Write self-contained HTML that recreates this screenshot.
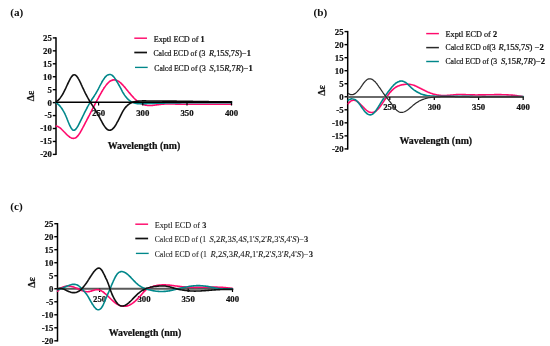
<!DOCTYPE html>
<html><head><meta charset="utf-8"><title>ECD spectra</title>
<style>
html,body{margin:0;padding:0;background:#fff;}
body{width:550px;height:346px;overflow:hidden;}
svg{display:block;}
text{font-family:"Liberation Serif","Times New Roman",serif;fill:#111;stroke:#111;stroke-width:0.22px;}
.tk{font-size:9.20px;font-weight:bold;}
.lg{font-size:8.6px;}
.lgc{stroke-width:0.08px;fill:#1a1a1a;}
.pl{font-size:11.2px;font-weight:bold;stroke-width:0;}
.dl{font-size:10px;font-weight:bold;}
.xl{font-size:9.9px;font-weight:bold;}
</style></head>
<body>
<svg width="550" height="346" viewBox="0 0 550 346">
<rect width="550" height="346" fill="#fff"/>
<line x1="56.00" y1="37.20" x2="56.00" y2="155.10" stroke="#000" stroke-width="1.5"/>
<line x1="52.80" y1="37.90" x2="56.00" y2="37.90" stroke="#000" stroke-width="1.4"/>
<text transform="translate(51.90,40.80) scale(0.955,1)" class="tk" text-anchor="end">25</text>
<line x1="52.80" y1="50.84" x2="56.00" y2="50.84" stroke="#000" stroke-width="1.4"/>
<text transform="translate(51.90,53.74) scale(0.955,1)" class="tk" text-anchor="end">20</text>
<line x1="52.80" y1="63.79" x2="56.00" y2="63.79" stroke="#000" stroke-width="1.4"/>
<text transform="translate(51.90,66.69) scale(0.955,1)" class="tk" text-anchor="end">15</text>
<line x1="52.80" y1="76.73" x2="56.00" y2="76.73" stroke="#000" stroke-width="1.4"/>
<text transform="translate(51.90,79.63) scale(0.955,1)" class="tk" text-anchor="end">10</text>
<line x1="52.80" y1="89.68" x2="56.00" y2="89.68" stroke="#000" stroke-width="1.4"/>
<text transform="translate(51.90,92.58) scale(0.955,1)" class="tk" text-anchor="end">5</text>
<line x1="52.80" y1="102.62" x2="56.00" y2="102.62" stroke="#000" stroke-width="1.4"/>
<text transform="translate(51.90,105.52) scale(0.955,1)" class="tk" text-anchor="end">0</text>
<line x1="52.80" y1="115.57" x2="56.00" y2="115.57" stroke="#000" stroke-width="1.4"/>
<text transform="translate(51.90,118.47) scale(0.955,1)" class="tk" text-anchor="end">-5</text>
<line x1="52.80" y1="128.51" x2="56.00" y2="128.51" stroke="#000" stroke-width="1.4"/>
<text transform="translate(51.90,131.41) scale(0.955,1)" class="tk" text-anchor="end">-10</text>
<line x1="52.80" y1="141.46" x2="56.00" y2="141.46" stroke="#000" stroke-width="1.4"/>
<text transform="translate(51.90,144.36) scale(0.955,1)" class="tk" text-anchor="end">-15</text>
<line x1="52.80" y1="154.40" x2="56.00" y2="154.40" stroke="#000" stroke-width="1.4"/>
<text transform="translate(51.90,157.30) scale(0.955,1)" class="tk" text-anchor="end">-20</text>
<path d="M56.3 125.97 C56.47 126.02 56.97 126.13 57.3 126.26 C57.64 126.38 57.97 126.54 58.3 126.73 C58.64 126.91 58.97 127.12 59.3 127.36 C59.64 127.59 59.97 127.85 60.3 128.12 C60.64 128.39 60.97 128.69 61.3 128.99 C61.64 129.30 61.98 129.62 62.3 129.95 C62.64 130.28 62.98 130.62 63.3 130.96 C63.65 131.30 63.98 131.65 64.3 132.00 C64.65 132.34 64.98 132.70 65.3 133.04 C65.65 133.38 65.98 133.73 66.3 134.06 C66.65 134.39 66.98 134.72 67.3 135.03 C67.65 135.34 67.99 135.65 68.3 135.93 C68.65 136.21 68.99 136.48 69.3 136.72 C69.66 136.97 69.99 137.20 70.3 137.39 C70.66 137.59 70.99 137.77 71.3 137.91 C71.66 138.05 71.99 138.17 72.3 138.24 C72.66 138.32 73.00 138.37 73.3 138.37 C73.66 138.38 74.00 138.35 74.3 138.27 C74.66 138.20 75.00 138.08 75.3 137.91 C75.67 137.75 76.00 137.53 76.3 137.28 C76.67 137.02 77.00 136.72 77.3 136.38 C77.67 136.04 78.00 135.65 78.3 135.23 C78.67 134.81 79.01 134.34 79.3 133.85 C79.67 133.35 80.01 132.82 80.3 132.26 C80.68 131.71 81.01 131.12 81.3 130.52 C81.68 129.92 82.01 129.30 82.3 128.67 C82.68 128.04 83.01 127.40 83.3 126.76 C83.68 126.12 84.01 125.47 84.3 124.83 C84.68 124.18 85.02 123.53 85.3 122.88 C85.68 122.23 86.02 121.58 86.4 120.93 C86.69 120.27 87.02 119.62 87.4 118.96 C87.69 118.31 88.02 117.65 88.4 117.00 C88.69 116.34 89.02 115.68 89.4 115.03 C89.69 114.37 90.02 113.72 90.4 113.06 C90.69 112.41 91.03 111.76 91.4 111.11 C91.69 110.45 92.03 109.80 92.4 109.16 C92.70 108.51 93.03 107.87 93.4 107.22 C93.70 106.58 94.03 105.94 94.4 105.31 C94.70 104.67 95.03 104.04 95.4 103.41 C95.70 102.78 96.03 102.15 96.4 101.53 C96.70 100.90 97.04 100.28 97.4 99.66 C97.70 99.05 98.04 98.43 98.4 97.82 C98.71 97.21 99.04 96.61 99.4 96.00 C99.71 95.40 100.04 94.81 100.4 94.22 C100.71 93.62 101.04 93.04 101.4 92.46 C101.71 91.88 102.04 91.31 102.4 90.75 C102.71 90.20 103.05 89.65 103.4 89.12 C103.71 88.58 104.05 88.06 104.4 87.56 C104.72 87.06 105.05 86.58 105.4 86.11 C105.72 85.65 106.05 85.20 106.4 84.78 C106.72 84.36 107.05 83.96 107.4 83.59 C107.72 83.22 108.06 82.87 108.4 82.56 C108.72 82.24 109.06 81.95 109.4 81.69 C109.72 81.43 110.06 81.20 110.4 81.00 C110.73 80.80 111.06 80.62 111.4 80.47 C111.73 80.32 112.06 80.20 112.4 80.11 C112.73 80.02 113.06 79.95 113.4 79.91 C113.73 79.87 114.07 79.86 114.4 79.87 C114.73 79.88 115.07 79.92 115.4 79.98 C115.74 80.04 116.07 80.13 116.4 80.24 C116.74 80.35 117.07 80.49 117.4 80.65 C117.74 80.81 118.07 81.00 118.4 81.21 C118.74 81.41 119.07 81.65 119.4 81.90 C119.74 82.15 120.08 82.43 120.4 82.72 C120.74 83.01 121.08 83.32 121.4 83.65 C121.75 83.97 122.08 84.31 122.4 84.66 C122.75 85.02 123.08 85.38 123.4 85.75 C123.75 86.13 124.08 86.51 124.4 86.90 C124.75 87.29 125.08 87.68 125.4 88.08 C125.75 88.48 126.09 88.88 126.4 89.29 C126.75 89.69 127.09 90.09 127.4 90.50 C127.76 90.90 128.09 91.31 128.4 91.71 C128.76 92.11 129.09 92.52 129.4 92.91 C129.76 93.31 130.09 93.71 130.4 94.10 C130.76 94.49 131.09 94.88 131.4 95.26 C131.76 95.64 132.10 96.02 132.4 96.38 C132.76 96.75 133.10 97.11 133.4 97.46 C133.77 97.81 134.10 98.16 134.4 98.49 C134.77 98.82 135.10 99.14 135.4 99.45 C135.77 99.76 136.10 100.05 136.4 100.34 C136.77 100.62 137.10 100.89 137.4 101.15 C137.77 101.41 138.11 101.66 138.4 101.90 C138.77 102.13 139.11 102.36 139.4 102.57 C139.78 102.78 140.11 102.98 140.4 103.16 C140.78 103.35 141.11 103.53 141.4 103.69 C141.78 103.86 142.11 104.01 142.4 104.15 C142.78 104.29 143.12 104.42 143.4 104.54 C143.78 104.66 144.12 104.77 144.5 104.86 C144.78 104.96 145.12 105.04 145.5 105.12 C145.79 105.19 146.12 105.25 146.5 105.31 C146.79 105.36 147.12 105.40 147.5 105.44 C147.79 105.47 148.12 105.50 148.5 105.52 C148.79 105.54 149.13 105.54 149.5 105.55 C149.79 105.55 150.13 105.55 150.5 105.54 C150.80 105.53 151.13 105.51 151.5 105.49 C151.80 105.47 152.13 105.44 152.5 105.41 C152.80 105.38 153.13 105.34 153.5 105.31 C153.80 105.27 154.13 105.23 154.5 105.18 C154.80 105.14 155.14 105.09 155.5 105.05 C155.80 105.00 156.14 104.95 156.5 104.90 C156.81 104.85 157.14 104.80 157.5 104.75 C157.81 104.71 158.14 104.66 158.5 104.61 C158.81 104.56 159.14 104.52 159.5 104.48 C159.81 104.43 160.14 104.39 160.5 104.36 C160.81 104.32 161.15 104.29 161.5 104.26 C161.81 104.23 162.15 104.20 162.5 104.18 C162.82 104.15 163.15 104.13 163.5 104.11 C163.82 104.09 164.15 104.08 164.5 104.06 C164.82 104.05 165.15 104.04 165.5 104.03 C165.82 104.02 166.15 104.01 166.5 104.00 C166.82 104.00 167.16 103.99 167.5 103.99 C167.82 103.99 168.16 103.99 168.5 103.99 C168.83 103.99 169.16 103.99 169.5 103.99 C169.83 103.99 170.16 104.00 170.5 104.00 C170.83 104.00 171.16 104.01 171.5 104.01 C171.83 104.02 172.16 104.02 172.5 104.03 C172.83 104.04 173.17 104.04 173.5 104.05 C173.83 104.05 174.17 104.06 174.5 104.07 C174.84 104.07 175.17 104.08 175.5 104.08 C175.84 104.09 176.17 104.09 176.5 104.10 C176.84 104.10 177.17 104.11 177.5 104.11 C177.84 104.12 178.18 104.12 178.5 104.13 C178.84 104.13 179.18 104.14 179.5 104.14 C179.84 104.15 180.18 104.15 180.5 104.15 C180.85 104.16 181.18 104.16 181.5 104.17 C181.85 104.17 182.18 104.17 182.5 104.18 C182.85 104.18 183.18 104.18 183.5 104.19 C183.85 104.19 184.19 104.19 184.5 104.20 C184.85 104.20 185.19 104.20 185.5 104.21 C185.86 104.21 186.19 104.21 186.5 104.22 C186.86 104.22 187.19 104.22 187.5 104.22 C187.86 104.23 188.19 104.23 188.5 104.23 C188.86 104.23 189.19 104.24 189.5 104.24 C189.86 104.24 190.20 104.24 190.5 104.24 C190.86 104.25 191.20 104.25 191.5 104.25 C191.87 104.25 192.20 104.25 192.5 104.25 C192.87 104.26 193.20 104.26 193.5 104.26 C193.87 104.26 194.20 104.26 194.5 104.26 C194.87 104.26 195.20 104.27 195.5 104.27 C195.87 104.27 196.21 104.27 196.5 104.27 C196.87 104.27 197.21 104.27 197.5 104.27 C197.88 104.27 198.21 104.27 198.5 104.27 C198.88 104.28 199.21 104.28 199.5 104.28 C199.88 104.28 200.21 104.28 200.5 104.28 C200.88 104.28 201.21 104.28 201.5 104.28 C201.88 104.28 202.22 104.28 202.6 104.28 C202.88 104.28 203.22 104.28 203.6 104.28 C203.89 104.28 204.22 104.28 204.6 104.28 C204.89 104.28 205.22 104.28 205.6 104.28 C205.89 104.28 206.22 104.28 206.6 104.28 C206.89 104.28 207.22 104.28 207.6 104.28 C207.89 104.28 208.23 104.28 208.6 104.28 C208.89 104.27 209.23 104.27 209.6 104.27 C209.90 104.27 210.23 104.27 210.6 104.27 C210.90 104.27 211.23 104.27 211.6 104.27 C211.90 104.27 212.23 104.27 212.6 104.27 C212.90 104.27 213.24 104.26 213.6 104.26 C213.90 104.26 214.24 104.26 214.6 104.26 C214.90 104.26 215.24 104.26 215.6 104.26 C215.91 104.26 216.24 104.26 216.6 104.25 C216.91 104.25 217.24 104.25 217.6 104.25 C217.91 104.25 218.24 104.25 218.6 104.25 C218.91 104.25 219.25 104.24 219.6 104.24 C219.91 104.24 220.25 104.24 220.6 104.24 C220.92 104.24 221.25 104.24 221.6 104.24 C221.92 104.23 222.25 104.23 222.6 104.23 C222.92 104.23 223.25 104.23 223.6 104.23 C223.92 104.23 224.25 104.23 224.6 104.22 C224.92 104.22 225.26 104.22 225.6 104.22 C225.92 104.22 226.26 104.22 226.6 104.22 C226.93 104.21 227.26 104.21 227.6 104.21 C227.93 104.21 228.26 104.21 228.6 104.21 C228.93 104.21 229.26 104.20 229.6 104.20 C229.93 104.20 230.26 104.20 230.6 104.20 C230.93 104.20 231.43 104.20 231.6 104.20" fill="none" stroke="#ff0a6c" stroke-width="1.60" stroke-linejoin="round" stroke-linecap="round"/>
<path d="M56.3 102.74 C56.47 102.87 56.97 103.24 57.3 103.52 C57.64 103.80 57.97 104.09 58.3 104.40 C58.64 104.71 58.97 105.04 59.3 105.39 C59.64 105.75 59.97 106.12 60.3 106.52 C60.64 106.92 60.97 107.34 61.3 107.80 C61.64 108.25 61.98 108.73 62.3 109.24 C62.64 109.76 62.98 110.30 63.3 110.87 C63.65 111.45 63.98 112.06 64.3 112.70 C64.65 113.35 64.98 114.03 65.3 114.75 C65.65 115.47 65.98 116.24 66.3 117.03 C66.65 117.82 66.98 118.66 67.3 119.48 C67.65 120.30 67.99 121.15 68.3 121.96 C68.65 122.77 68.99 123.59 69.3 124.35 C69.66 125.10 69.99 125.84 70.3 126.49 C70.66 127.15 70.99 127.76 71.3 128.27 C71.66 128.78 71.99 129.22 72.3 129.54 C72.66 129.85 73.00 130.06 73.3 130.17 C73.66 130.27 74.00 130.24 74.3 130.14 C74.66 130.04 75.00 129.82 75.3 129.55 C75.67 129.27 76.00 128.90 76.3 128.49 C76.67 128.07 77.00 127.58 77.3 127.05 C77.67 126.53 78.00 125.94 78.3 125.34 C78.67 124.73 79.01 124.08 79.3 123.43 C79.67 122.78 80.01 122.11 80.3 121.44 C80.68 120.76 81.01 120.08 81.3 119.40 C81.68 118.72 82.01 118.03 82.3 117.34 C82.68 116.65 83.01 115.96 83.3 115.27 C83.68 114.58 84.01 113.89 84.3 113.21 C84.68 112.53 85.02 111.84 85.3 111.17 C85.68 110.50 86.02 109.83 86.4 109.18 C86.69 108.52 87.02 107.88 87.4 107.24 C87.69 106.61 88.02 105.99 88.4 105.38 C88.69 104.77 89.02 104.18 89.4 103.61 C89.69 103.03 90.02 102.48 90.4 101.93 C90.69 101.39 91.03 100.86 91.4 100.34 C91.69 99.82 92.03 99.31 92.4 98.79 C92.70 98.28 93.03 97.77 93.4 97.26 C93.70 96.75 94.03 96.24 94.4 95.71 C94.70 95.19 95.03 94.66 95.4 94.12 C95.70 93.58 96.03 93.02 96.4 92.45 C96.70 91.88 97.04 91.28 97.4 90.68 C97.70 90.07 98.04 89.44 98.4 88.81 C98.71 88.18 99.04 87.53 99.4 86.89 C99.71 86.25 100.04 85.60 100.4 84.97 C100.71 84.33 101.04 83.70 101.4 83.09 C101.71 82.48 102.04 81.87 102.4 81.29 C102.71 80.72 103.05 80.16 103.4 79.63 C103.71 79.11 104.05 78.61 104.4 78.15 C104.72 77.69 105.05 77.26 105.4 76.89 C105.72 76.51 106.05 76.17 106.4 75.88 C106.72 75.59 107.05 75.34 107.4 75.14 C107.72 74.93 108.06 74.78 108.4 74.66 C108.72 74.55 109.06 74.48 109.4 74.46 C109.72 74.44 110.06 74.46 110.4 74.53 C110.73 74.60 111.06 74.72 111.4 74.88 C111.73 75.04 112.06 75.25 112.4 75.51 C112.73 75.77 113.06 76.07 113.4 76.43 C113.73 76.78 114.07 77.19 114.4 77.63 C114.73 78.08 115.07 78.58 115.4 79.09 C115.74 79.61 116.07 80.17 116.4 80.72 C116.74 81.28 117.07 81.86 117.4 82.43 C117.74 83.00 118.07 83.56 118.4 84.12 C118.74 84.69 119.07 85.24 119.4 85.83 C119.74 86.43 120.08 87.06 120.4 87.70 C120.74 88.34 121.08 89.03 121.4 89.68 C121.75 90.33 122.08 90.97 122.4 91.58 C122.75 92.18 123.08 92.75 123.4 93.30 C123.75 93.84 124.08 94.36 124.4 94.85 C124.75 95.34 125.08 95.81 125.4 96.25 C125.75 96.69 126.09 97.10 126.4 97.49 C126.75 97.88 127.09 98.25 127.4 98.59 C127.76 98.94 128.09 99.26 128.4 99.56 C128.76 99.86 129.09 100.14 129.4 100.40 C129.76 100.66 130.09 100.90 130.4 101.12 C130.76 101.35 131.09 101.55 131.4 101.74 C131.76 101.93 132.10 102.10 132.4 102.25 C132.76 102.41 133.10 102.55 133.4 102.68 C133.77 102.80 134.10 102.91 134.4 103.01 C134.77 103.12 135.10 103.20 135.4 103.28 C135.77 103.36 136.10 103.42 136.4 103.48 C136.77 103.53 137.10 103.58 137.4 103.62 C137.77 103.65 138.11 103.68 138.4 103.70 C138.77 103.73 139.11 103.74 139.4 103.75 C139.78 103.76 140.11 103.77 140.4 103.77 C140.78 103.77 141.11 103.76 141.4 103.76 C141.78 103.75 142.11 103.74 142.4 103.73 C142.78 103.72 143.12 103.71 143.4 103.70 C143.78 103.69 144.12 103.68 144.5 103.66 C144.78 103.65 145.12 103.64 145.5 103.63 C145.79 103.62 146.12 103.61 146.5 103.60 C146.79 103.59 147.12 103.58 147.5 103.56 C147.79 103.55 148.12 103.54 148.5 103.53 C148.79 103.52 149.13 103.51 149.5 103.50 C149.79 103.49 150.13 103.48 150.5 103.47 C150.80 103.46 151.13 103.45 151.5 103.44 C151.80 103.43 152.13 103.42 152.5 103.41 C152.80 103.40 153.13 103.39 153.5 103.38 C153.80 103.37 154.13 103.36 154.5 103.35 C154.80 103.34 155.14 103.33 155.5 103.32 C155.80 103.31 156.14 103.30 156.5 103.29 C156.81 103.28 157.14 103.27 157.5 103.26 C157.81 103.25 158.14 103.25 158.5 103.24 C158.81 103.23 159.14 103.22 159.5 103.21 C159.81 103.20 160.14 103.19 160.5 103.18 C160.81 103.18 161.15 103.17 161.5 103.16 C161.81 103.15 162.15 103.14 162.5 103.13 C162.82 103.13 163.15 103.12 163.5 103.11 C163.82 103.10 164.15 103.09 164.5 103.09 C164.82 103.08 165.15 103.07 165.5 103.07 C165.82 103.06 166.15 103.05 166.5 103.04 C166.82 103.04 167.16 103.03 167.5 103.02 C167.82 103.02 168.16 103.01 168.5 103.00 C168.83 103.00 169.16 102.99 169.5 102.98 C169.83 102.98 170.16 102.97 170.5 102.97 C170.83 102.96 171.16 102.95 171.5 102.95 C171.83 102.94 172.16 102.94 172.5 102.93 C172.83 102.93 173.17 102.92 173.5 102.91 C173.83 102.91 174.17 102.90 174.5 102.90 C174.84 102.89 175.17 102.89 175.5 102.89 C175.84 102.88 176.17 102.88 176.5 102.87 C176.84 102.87 177.17 102.86 177.5 102.86 C177.84 102.85 178.18 102.85 178.5 102.85 C178.84 102.84 179.18 102.84 179.5 102.84 C179.84 102.83 180.18 102.83 180.5 102.82 C180.85 102.82 181.18 102.82 181.5 102.81 C181.85 102.81 182.18 102.81 182.5 102.81 C182.85 102.80 183.18 102.80 183.5 102.80 C183.85 102.79 184.19 102.79 184.5 102.79 C184.85 102.79 185.19 102.78 185.5 102.78 C185.86 102.78 186.19 102.78 186.5 102.77 C186.86 102.77 187.19 102.77 187.5 102.77 C187.86 102.76 188.19 102.76 188.5 102.76 C188.86 102.76 189.19 102.76 189.5 102.76 C189.86 102.75 190.20 102.75 190.5 102.75 C190.86 102.75 191.20 102.75 191.5 102.75 C191.87 102.74 192.20 102.74 192.5 102.74 C192.87 102.74 193.20 102.74 193.5 102.74 C193.87 102.74 194.20 102.73 194.5 102.73 C194.87 102.73 195.20 102.73 195.5 102.73 C195.87 102.73 196.21 102.73 196.5 102.73 C196.87 102.73 197.21 102.73 197.5 102.73 C197.88 102.72 198.21 102.72 198.5 102.72 C198.88 102.72 199.21 102.72 199.5 102.72 C199.88 102.72 200.21 102.72 200.5 102.72 C200.88 102.72 201.21 102.72 201.5 102.72 C201.88 102.72 202.22 102.72 202.6 102.72 C202.88 102.72 203.22 102.72 203.6 102.72 C203.89 102.72 204.22 102.72 204.6 102.72 C204.89 102.71 205.22 102.71 205.6 102.71 C205.89 102.71 206.22 102.71 206.6 102.71 C206.89 102.71 207.22 102.71 207.6 102.71 C207.89 102.71 208.23 102.71 208.6 102.71 C208.89 102.71 209.23 102.71 209.6 102.71 C209.90 102.71 210.23 102.71 210.6 102.71 C210.90 102.71 211.23 102.71 211.6 102.71 C211.90 102.71 212.23 102.71 212.6 102.71 C212.90 102.71 213.24 102.71 213.6 102.71 C213.90 102.71 214.24 102.71 214.6 102.71 C214.90 102.71 215.24 102.71 215.6 102.71 C215.91 102.71 216.24 102.71 216.6 102.71 C216.91 102.71 217.24 102.71 217.6 102.71 C217.91 102.71 218.24 102.71 218.6 102.71 C218.91 102.71 219.25 102.71 219.6 102.71 C219.91 102.71 220.25 102.71 220.6 102.71 C220.92 102.71 221.25 102.71 221.6 102.71 C221.92 102.71 222.25 102.71 222.6 102.71 C222.92 102.71 223.25 102.71 223.6 102.70 C223.92 102.70 224.25 102.70 224.6 102.70 C224.92 102.70 225.26 102.70 225.6 102.70 C225.92 102.70 226.26 102.70 226.6 102.70 C226.93 102.70 227.26 102.70 227.6 102.70 C227.93 102.70 228.26 102.69 228.6 102.69 C228.93 102.69 229.26 102.69 229.6 102.69 C229.93 102.69 230.26 102.69 230.6 102.69 C230.93 102.68 231.43 102.68 231.6 102.68" fill="none" stroke="#00878a" stroke-width="1.60" stroke-linejoin="round" stroke-linecap="round"/>
<path d="M56.3 101.47 C56.47 101.38 56.97 101.16 57.3 100.94 C57.64 100.72 57.97 100.45 58.3 100.15 C58.64 99.85 58.97 99.50 59.3 99.12 C59.64 98.75 59.97 98.33 60.3 97.88 C60.64 97.43 60.97 96.95 61.3 96.44 C61.64 95.93 61.98 95.39 62.3 94.82 C62.64 94.26 62.98 93.66 63.3 93.05 C63.65 92.43 63.98 91.79 64.3 91.13 C64.65 90.48 64.98 89.80 65.3 89.10 C65.65 88.41 65.98 87.69 66.3 86.97 C66.65 86.25 66.98 85.51 67.3 84.78 C67.65 84.06 67.99 83.32 68.3 82.62 C68.65 81.91 68.99 81.21 69.3 80.55 C69.66 79.90 69.99 79.26 70.3 78.68 C70.66 78.10 70.99 77.55 71.3 77.08 C71.66 76.60 71.99 76.18 72.3 75.84 C72.66 75.50 73.00 75.21 73.3 75.04 C73.66 74.86 74.00 74.76 74.3 74.76 C74.66 74.76 75.00 74.87 75.3 75.05 C75.67 75.23 76.00 75.50 76.3 75.83 C76.67 76.17 77.00 76.58 77.3 77.04 C77.67 77.50 78.00 78.03 78.3 78.60 C78.67 79.16 79.01 79.78 79.3 80.42 C79.67 81.07 80.01 81.75 80.3 82.45 C80.68 83.14 81.01 83.87 81.3 84.59 C81.68 85.31 82.01 86.05 82.3 86.77 C82.68 87.50 83.01 88.22 83.3 88.94 C83.68 89.65 84.01 90.36 84.3 91.05 C84.68 91.75 85.02 92.44 85.3 93.12 C85.68 93.79 86.02 94.46 86.4 95.12 C86.69 95.77 87.02 96.41 87.4 97.04 C87.69 97.67 88.02 98.29 88.4 98.88 C88.69 99.48 89.02 100.07 89.4 100.63 C89.69 101.20 90.02 101.75 90.4 102.28 C90.69 102.81 91.03 103.32 91.4 103.83 C91.69 104.34 92.03 104.83 92.4 105.33 C92.70 105.83 93.03 106.32 93.4 106.82 C93.70 107.33 94.03 107.83 94.4 108.36 C94.70 108.89 95.03 109.43 95.4 109.98 C95.70 110.54 96.03 111.11 96.4 111.70 C96.70 112.28 97.04 112.88 97.4 113.48 C97.70 114.08 98.04 114.70 98.4 115.32 C98.71 115.94 99.04 116.56 99.4 117.19 C99.71 117.82 100.04 118.46 100.4 119.08 C100.71 119.71 101.04 120.35 101.4 120.97 C101.71 121.59 102.04 122.20 102.4 122.80 C102.71 123.39 103.05 123.97 103.4 124.52 C103.71 125.07 104.05 125.61 104.4 126.10 C104.72 126.60 105.05 127.07 105.4 127.49 C105.72 127.91 106.05 128.30 106.4 128.64 C106.72 128.97 107.05 129.27 107.4 129.50 C107.72 129.73 108.06 129.91 108.4 130.04 C108.72 130.16 109.06 130.23 109.4 130.25 C109.72 130.26 110.06 130.23 110.4 130.14 C110.73 130.06 111.06 129.92 111.4 129.74 C111.73 129.56 112.06 129.33 112.4 129.06 C112.73 128.78 113.06 128.47 113.4 128.11 C113.73 127.75 114.07 127.34 114.4 126.90 C114.73 126.46 115.07 125.98 115.4 125.46 C115.74 124.95 116.07 124.39 116.4 123.81 C116.74 123.23 117.07 122.62 117.4 121.99 C117.74 121.36 118.07 120.71 118.4 120.06 C118.74 119.40 119.07 118.73 119.4 118.06 C119.74 117.39 120.08 116.71 120.4 116.05 C120.74 115.38 121.08 114.72 121.4 114.08 C121.75 113.43 122.08 112.80 122.4 112.20 C122.75 111.59 123.08 111.01 123.4 110.46 C123.75 109.91 124.08 109.39 124.4 108.91 C124.75 108.43 125.08 107.98 125.4 107.56 C125.75 107.14 126.09 106.75 126.4 106.39 C126.75 106.03 127.09 105.70 127.4 105.39 C127.76 105.08 128.09 104.80 128.4 104.54 C128.76 104.28 129.09 104.04 129.4 103.82 C129.76 103.61 130.09 103.41 130.4 103.23 C130.76 103.05 131.09 102.89 131.4 102.75 C131.76 102.60 132.10 102.47 132.4 102.35 C132.76 102.24 133.10 102.13 133.4 102.04 C133.77 101.94 134.10 101.86 134.4 101.78 C134.77 101.71 135.10 101.64 135.4 101.58 C135.77 101.51 136.10 101.46 136.4 101.40 C136.77 101.35 137.10 101.30 137.4 101.26 C137.77 101.22 138.11 101.18 138.4 101.15 C138.77 101.11 139.11 101.09 139.4 101.06 C139.78 101.03 140.11 101.01 140.4 101.00 C140.78 100.98 141.11 100.96 141.4 100.95 C141.78 100.94 142.11 100.93 142.4 100.92 C142.78 100.92 143.12 100.91 143.4 100.91 C143.78 100.91 144.12 100.91 144.5 100.91 C144.78 100.91 145.12 100.91 145.5 100.91 C145.79 100.92 146.12 100.92 146.5 100.93 C146.79 100.93 147.12 100.94 147.5 100.94 C147.79 100.95 148.12 100.95 148.5 100.96 C148.79 100.96 149.13 100.97 149.5 100.97 C149.79 100.98 150.13 100.98 150.5 100.99 C150.80 100.99 151.13 100.99 151.5 101.00 C151.80 101.00 152.13 101.01 152.5 101.01 C152.80 101.01 153.13 101.02 153.5 101.02 C153.80 101.02 154.13 101.03 154.5 101.03 C154.80 101.03 155.14 101.03 155.5 101.04 C155.80 101.04 156.14 101.04 156.5 101.04 C156.81 101.05 157.14 101.05 157.5 101.05 C157.81 101.05 158.14 101.05 158.5 101.06 C158.81 101.06 159.14 101.06 159.5 101.06 C159.81 101.06 160.14 101.07 160.5 101.07 C160.81 101.07 161.15 101.07 161.5 101.07 C161.81 101.07 162.15 101.08 162.5 101.08 C162.82 101.08 163.15 101.08 163.5 101.08 C163.82 101.08 164.15 101.08 164.5 101.09 C164.82 101.09 165.15 101.09 165.5 101.09 C165.82 101.09 166.15 101.09 166.5 101.10 C166.82 101.10 167.16 101.10 167.5 101.10 C167.82 101.10 168.16 101.10 168.5 101.11 C168.83 101.11 169.16 101.11 169.5 101.11 C169.83 101.11 170.16 101.12 170.5 101.12 C170.83 101.12 171.16 101.12 171.5 101.12 C171.83 101.13 172.16 101.13 172.5 101.13 C172.83 101.13 173.17 101.14 173.5 101.14 C173.83 101.14 174.17 101.15 174.5 101.15 C174.84 101.15 175.17 101.16 175.5 101.16 C175.84 101.16 176.17 101.17 176.5 101.17 C176.84 101.17 177.17 101.18 177.5 101.18 C177.84 101.19 178.18 101.19 178.5 101.19 C178.84 101.20 179.18 101.20 179.5 101.21 C179.84 101.21 180.18 101.22 180.5 101.22 C180.85 101.23 181.18 101.23 181.5 101.23 C181.85 101.24 182.18 101.24 182.5 101.25 C182.85 101.25 183.18 101.26 183.5 101.26 C183.85 101.27 184.19 101.27 184.5 101.28 C184.85 101.28 185.19 101.29 185.5 101.30 C185.86 101.30 186.19 101.31 186.5 101.31 C186.86 101.32 187.19 101.32 187.5 101.33 C187.86 101.33 188.19 101.34 188.5 101.34 C188.86 101.35 189.19 101.36 189.5 101.36 C189.86 101.37 190.20 101.37 190.5 101.38 C190.86 101.38 191.20 101.39 191.5 101.40 C191.87 101.40 192.20 101.41 192.5 101.41 C192.87 101.42 193.20 101.43 193.5 101.43 C193.87 101.44 194.20 101.44 194.5 101.45 C194.87 101.45 195.20 101.46 195.5 101.47 C195.87 101.47 196.21 101.48 196.5 101.48 C196.87 101.49 197.21 101.50 197.5 101.50 C197.88 101.51 198.21 101.51 198.5 101.52 C198.88 101.52 199.21 101.53 199.5 101.54 C199.88 101.54 200.21 101.55 200.5 101.55 C200.88 101.56 201.21 101.56 201.5 101.57 C201.88 101.57 202.22 101.58 202.6 101.58 C202.88 101.59 203.22 101.60 203.6 101.60 C203.89 101.61 204.22 101.61 204.6 101.62 C204.89 101.62 205.22 101.63 205.6 101.63 C205.89 101.64 206.22 101.64 206.6 101.65 C206.89 101.65 207.22 101.66 207.6 101.66 C207.89 101.66 208.23 101.67 208.6 101.67 C208.89 101.68 209.23 101.68 209.6 101.69 C209.90 101.69 210.23 101.69 210.6 101.70 C210.90 101.70 211.23 101.71 211.6 101.71 C211.90 101.71 212.23 101.72 212.6 101.72 C212.90 101.72 213.24 101.73 213.6 101.73 C213.90 101.73 214.24 101.74 214.6 101.74 C214.90 101.74 215.24 101.75 215.6 101.75 C215.91 101.75 216.24 101.75 216.6 101.76 C216.91 101.76 217.24 101.76 217.6 101.76 C217.91 101.77 218.24 101.77 218.6 101.77 C218.91 101.77 219.25 101.77 219.6 101.77 C219.91 101.78 220.25 101.78 220.6 101.78 C220.92 101.78 221.25 101.78 221.6 101.78 C221.92 101.78 222.25 101.78 222.6 101.78 C222.92 101.78 223.25 101.78 223.6 101.78 C223.92 101.78 224.25 101.78 224.6 101.78 C224.92 101.78 225.26 101.78 225.6 101.78 C225.92 101.78 226.26 101.78 226.6 101.78 C226.93 101.77 227.26 101.77 227.6 101.77 C227.93 101.77 228.26 101.77 228.6 101.76 C228.93 101.76 229.26 101.76 229.6 101.76 C229.93 101.75 230.26 101.75 230.6 101.75 C230.93 101.74 231.43 101.74 231.6 101.74" fill="none" stroke="#111" stroke-width="1.60" stroke-linejoin="round" stroke-linecap="round"/>
<line x1="56.00" y1="102.30" x2="231.60" y2="102.30" stroke="#000" stroke-width="1.40"/>
<line x1="98.60" y1="102.30" x2="98.60" y2="105.50" stroke="#000" stroke-width="1.2"/>
<text transform="translate(98.60,115.70) scale(0.955,1)" class="tk" text-anchor="middle">250</text>
<line x1="142.80" y1="102.30" x2="142.80" y2="105.50" stroke="#000" stroke-width="1.2"/>
<text transform="translate(142.80,115.70) scale(0.955,1)" class="tk" text-anchor="middle">300</text>
<line x1="187.00" y1="102.30" x2="187.00" y2="105.50" stroke="#000" stroke-width="1.2"/>
<text transform="translate(187.00,115.70) scale(0.955,1)" class="tk" text-anchor="middle">350</text>
<line x1="231.50" y1="102.30" x2="231.50" y2="105.50" stroke="#000" stroke-width="1.2"/>
<text transform="translate(231.50,115.70) scale(0.955,1)" class="tk" text-anchor="middle">400</text>
<text x="10.2" y="16.4" class="pl">(a)</text>
<text class="dl" transform="translate(34.2,96.0) rotate(-90)" text-anchor="middle">&#916;&#949;</text>
<text x="144" y="148.9" class="xl" text-anchor="middle">Wavelength (nm)</text>
<line x1="134.30" y1="38.20" x2="147.00" y2="38.20" stroke="#ff0a6c" stroke-width="1.45"/>
<line x1="134.30" y1="52.50" x2="147.00" y2="52.50" stroke="#111" stroke-width="1.70"/>
<line x1="135.00" y1="67.40" x2="147.70" y2="67.40" stroke="#00878a" stroke-width="1.35"/>
<text x="153.70" y="41.70" class="lg" textLength="51.00" lengthAdjust="spacingAndGlyphs">Exptl ECD of <tspan font-weight="bold">1</tspan></text>
<text x="153.50" y="55.50" class="lg" textLength="51.80" lengthAdjust="spacingAndGlyphs">Calcd ECD of (3</text>
<text x="209.00" y="55.50" class="lg" textLength="41.80" lengthAdjust="spacingAndGlyphs"><tspan font-style="italic">R</tspan>,15<tspan font-style="italic">S</tspan>,7<tspan font-style="italic">S</tspan>)&#8722;<tspan font-weight="bold">1</tspan></text>
<text x="154.30" y="70.50" class="lg" textLength="51.40" lengthAdjust="spacingAndGlyphs">Calcd ECD of (3</text>
<text x="209.50" y="70.50" class="lg" textLength="43.10" lengthAdjust="spacingAndGlyphs"><tspan font-style="italic">S</tspan>,15<tspan font-style="italic">R</tspan>,7<tspan font-style="italic">R</tspan>)&#8722;<tspan font-weight="bold">1</tspan></text>
<line x1="347.70" y1="30.90" x2="347.70" y2="149.60" stroke="#000" stroke-width="1.5"/>
<line x1="344.50" y1="31.60" x2="347.70" y2="31.60" stroke="#000" stroke-width="1.4"/>
<text transform="translate(343.60,34.50) scale(0.955,1)" class="tk" text-anchor="end">25</text>
<line x1="344.50" y1="44.63" x2="347.70" y2="44.63" stroke="#000" stroke-width="1.4"/>
<text transform="translate(343.60,47.53) scale(0.955,1)" class="tk" text-anchor="end">20</text>
<line x1="344.50" y1="57.67" x2="347.70" y2="57.67" stroke="#000" stroke-width="1.4"/>
<text transform="translate(343.60,60.57) scale(0.955,1)" class="tk" text-anchor="end">15</text>
<line x1="344.50" y1="70.70" x2="347.70" y2="70.70" stroke="#000" stroke-width="1.4"/>
<text transform="translate(343.60,73.60) scale(0.955,1)" class="tk" text-anchor="end">10</text>
<line x1="344.50" y1="83.73" x2="347.70" y2="83.73" stroke="#000" stroke-width="1.4"/>
<text transform="translate(343.60,86.63) scale(0.955,1)" class="tk" text-anchor="end">5</text>
<line x1="344.50" y1="96.77" x2="347.70" y2="96.77" stroke="#000" stroke-width="1.4"/>
<text transform="translate(343.60,99.67) scale(0.955,1)" class="tk" text-anchor="end">0</text>
<line x1="344.50" y1="109.80" x2="347.70" y2="109.80" stroke="#000" stroke-width="1.4"/>
<text transform="translate(343.60,112.70) scale(0.955,1)" class="tk" text-anchor="end">-5</text>
<line x1="344.50" y1="122.83" x2="347.70" y2="122.83" stroke="#000" stroke-width="1.4"/>
<text transform="translate(343.60,125.73) scale(0.955,1)" class="tk" text-anchor="end">-10</text>
<line x1="344.50" y1="135.87" x2="347.70" y2="135.87" stroke="#000" stroke-width="1.4"/>
<text transform="translate(343.60,138.77) scale(0.955,1)" class="tk" text-anchor="end">-15</text>
<line x1="344.50" y1="148.90" x2="347.70" y2="148.90" stroke="#000" stroke-width="1.4"/>
<text transform="translate(343.60,151.80) scale(0.955,1)" class="tk" text-anchor="end">-20</text>
<path d="M348.2 103.67 C348.37 103.46 348.87 102.81 349.2 102.45 C349.53 102.09 349.87 101.78 350.2 101.51 C350.53 101.24 350.87 101.01 351.2 100.83 C351.54 100.65 351.87 100.51 352.2 100.41 C352.54 100.30 352.87 100.24 353.2 100.21 C353.54 100.19 353.87 100.20 354.2 100.24 C354.54 100.28 354.87 100.36 355.2 100.46 C355.54 100.57 355.87 100.71 356.2 100.87 C356.54 101.04 356.87 101.23 357.2 101.45 C357.54 101.66 357.87 101.91 358.2 102.17 C358.54 102.44 358.87 102.73 359.2 103.03 C359.54 103.33 359.87 103.65 360.2 103.97 C360.54 104.30 360.87 104.64 361.2 104.98 C361.54 105.33 361.87 105.68 362.2 106.03 C362.54 106.38 362.88 106.74 363.2 107.09 C363.54 107.44 363.88 107.78 364.2 108.12 C364.54 108.46 364.88 108.79 365.2 109.10 C365.54 109.41 365.88 109.72 366.2 110.00 C366.54 110.28 366.88 110.55 367.2 110.78 C367.54 111.02 367.88 111.24 368.2 111.43 C368.54 111.62 368.88 111.79 369.2 111.93 C369.55 112.06 369.88 112.18 370.2 112.26 C370.55 112.35 370.88 112.41 371.2 112.44 C371.55 112.47 371.88 112.47 372.2 112.45 C372.55 112.43 372.88 112.38 373.2 112.30 C373.55 112.22 373.88 112.11 374.2 111.97 C374.55 111.84 374.88 111.67 375.2 111.48 C375.55 111.28 375.88 111.06 376.2 110.80 C376.55 110.55 376.88 110.27 377.2 109.95 C377.55 109.64 377.88 109.29 378.2 108.93 C378.55 108.56 378.88 108.16 379.2 107.75 C379.55 107.34 379.88 106.90 380.2 106.45 C380.55 106.00 380.89 105.53 381.2 105.05 C381.55 104.57 381.89 104.08 382.2 103.58 C382.55 103.09 382.89 102.58 383.2 102.08 C383.55 101.57 383.89 101.06 384.2 100.56 C384.55 100.05 384.89 99.54 385.2 99.05 C385.55 98.55 385.89 98.06 386.2 97.58 C386.56 97.10 386.89 96.63 387.2 96.16 C387.56 95.70 387.89 95.25 388.2 94.81 C388.56 94.37 388.89 93.94 389.2 93.52 C389.56 93.10 389.89 92.70 390.2 92.31 C390.56 91.92 390.89 91.54 391.2 91.18 C391.56 90.82 391.89 90.47 392.2 90.14 C392.56 89.81 392.89 89.50 393.2 89.21 C393.56 88.91 393.89 88.64 394.2 88.38 C394.56 88.12 394.89 87.88 395.2 87.65 C395.56 87.43 395.89 87.22 396.2 87.02 C396.56 86.83 396.89 86.65 397.2 86.48 C397.56 86.32 397.90 86.16 398.2 86.02 C398.56 85.88 398.90 85.75 399.2 85.63 C399.56 85.51 399.90 85.41 400.2 85.31 C400.56 85.21 400.90 85.12 401.2 85.04 C401.56 84.95 401.90 84.88 402.2 84.81 C402.56 84.74 402.90 84.68 403.2 84.62 C403.56 84.56 403.90 84.51 404.2 84.47 C404.57 84.42 404.90 84.38 405.2 84.34 C405.57 84.31 405.90 84.28 406.2 84.26 C406.57 84.24 406.90 84.22 407.2 84.22 C407.57 84.21 407.90 84.21 408.2 84.22 C408.57 84.23 408.90 84.24 409.2 84.27 C409.57 84.29 409.90 84.33 410.2 84.37 C410.57 84.41 410.90 84.47 411.2 84.53 C411.57 84.59 411.90 84.66 412.2 84.75 C412.57 84.83 412.90 84.92 413.2 85.03 C413.57 85.13 413.90 85.24 414.2 85.37 C414.57 85.49 414.90 85.63 415.2 85.77 C415.57 85.91 415.91 86.06 416.2 86.22 C416.57 86.37 416.91 86.53 417.2 86.70 C417.57 86.86 417.91 87.04 418.2 87.21 C418.57 87.38 418.91 87.56 419.2 87.74 C419.57 87.91 419.91 88.09 420.2 88.27 C420.57 88.45 420.91 88.62 421.2 88.80 C421.58 88.97 421.91 89.15 422.2 89.32 C422.58 89.49 422.91 89.66 423.2 89.82 C423.58 89.99 423.91 90.15 424.2 90.32 C424.58 90.48 424.91 90.64 425.2 90.79 C425.58 90.95 425.91 91.10 426.2 91.26 C426.58 91.41 426.91 91.56 427.2 91.70 C427.58 91.85 427.91 91.99 428.2 92.13 C428.58 92.27 428.91 92.40 429.2 92.53 C429.58 92.67 429.91 92.79 430.2 92.92 C430.58 93.04 430.91 93.16 431.2 93.28 C431.58 93.40 431.91 93.51 432.2 93.62 C432.58 93.73 432.92 93.83 433.2 93.94 C433.58 94.04 433.92 94.13 434.2 94.22 C434.58 94.32 434.92 94.40 435.2 94.49 C435.58 94.57 435.92 94.65 436.3 94.72 C436.58 94.80 436.92 94.87 437.3 94.93 C437.58 95.00 437.92 95.06 438.3 95.11 C438.58 95.17 438.92 95.22 439.3 95.26 C439.59 95.31 439.92 95.35 440.3 95.39 C440.59 95.42 440.92 95.45 441.3 95.48 C441.59 95.50 441.92 95.52 442.3 95.54 C442.59 95.55 442.92 95.56 443.3 95.57 C443.59 95.57 443.92 95.57 444.3 95.56 C444.59 95.56 444.92 95.55 445.3 95.54 C445.59 95.53 445.92 95.51 446.3 95.49 C446.59 95.47 446.92 95.45 447.3 95.42 C447.59 95.40 447.92 95.37 448.3 95.34 C448.59 95.32 448.92 95.29 449.3 95.25 C449.59 95.22 449.92 95.19 450.3 95.16 C450.59 95.12 450.93 95.09 451.3 95.06 C451.59 95.02 451.93 94.99 452.3 94.96 C452.59 94.92 452.93 94.89 453.3 94.86 C453.59 94.83 453.93 94.80 454.3 94.77 C454.59 94.74 454.93 94.72 455.3 94.70 C455.59 94.67 455.93 94.65 456.3 94.63 C456.60 94.62 456.93 94.60 457.3 94.59 C457.60 94.58 457.93 94.57 458.3 94.56 C458.60 94.56 458.93 94.55 459.3 94.55 C459.60 94.55 459.93 94.55 460.3 94.55 C460.60 94.55 460.93 94.55 461.3 94.56 C461.60 94.56 461.93 94.57 462.3 94.58 C462.60 94.58 462.93 94.59 463.3 94.60 C463.60 94.61 463.93 94.62 464.3 94.63 C464.60 94.65 464.93 94.66 465.3 94.67 C465.60 94.68 465.93 94.69 466.3 94.71 C466.60 94.72 466.93 94.73 467.3 94.75 C467.60 94.76 467.94 94.77 468.3 94.78 C468.60 94.80 468.94 94.81 469.3 94.82 C469.60 94.83 469.94 94.84 470.3 94.85 C470.60 94.86 470.94 94.87 471.3 94.88 C471.60 94.88 471.94 94.89 472.3 94.90 C472.60 94.90 472.94 94.91 473.3 94.91 C473.60 94.91 473.94 94.92 474.3 94.92 C474.61 94.92 474.94 94.93 475.3 94.93 C475.61 94.93 475.94 94.93 476.3 94.93 C476.61 94.93 476.94 94.93 477.3 94.93 C477.61 94.93 477.94 94.93 478.3 94.92 C478.61 94.92 478.94 94.92 479.3 94.92 C479.61 94.91 479.94 94.91 480.3 94.91 C480.61 94.90 480.94 94.90 481.3 94.89 C481.61 94.89 481.94 94.88 482.3 94.88 C482.61 94.87 482.94 94.87 483.3 94.86 C483.61 94.86 483.94 94.85 484.3 94.85 C484.61 94.84 484.94 94.83 485.3 94.83 C485.61 94.82 485.95 94.81 486.3 94.81 C486.61 94.80 486.95 94.80 487.3 94.79 C487.61 94.78 487.95 94.78 488.3 94.77 C488.61 94.76 488.95 94.76 489.3 94.75 C489.61 94.74 489.95 94.74 490.3 94.73 C490.61 94.73 490.95 94.72 491.3 94.72 C491.62 94.71 491.95 94.70 492.3 94.70 C492.62 94.69 492.95 94.69 493.3 94.69 C493.62 94.68 493.95 94.68 494.3 94.67 C494.62 94.67 494.95 94.67 495.3 94.66 C495.62 94.66 495.95 94.66 496.3 94.66 C496.62 94.65 496.95 94.65 497.3 94.65 C497.62 94.65 497.95 94.65 498.3 94.65 C498.62 94.65 498.95 94.65 499.3 94.65 C499.62 94.66 499.95 94.66 500.3 94.66 C500.62 94.66 500.95 94.67 501.3 94.67 C501.62 94.68 501.95 94.68 502.3 94.69 C502.62 94.69 502.96 94.70 503.3 94.71 C503.62 94.72 503.96 94.72 504.3 94.73 C504.62 94.74 504.96 94.75 505.3 94.77 C505.62 94.78 505.96 94.79 506.3 94.80 C506.62 94.82 506.96 94.83 507.3 94.85 C507.62 94.86 507.96 94.88 508.3 94.90 C508.62 94.92 508.96 94.93 509.3 94.95 C509.63 94.98 509.96 95.00 510.3 95.02 C510.63 95.04 510.96 95.07 511.3 95.09 C511.63 95.12 511.96 95.14 512.3 95.17 C512.63 95.20 512.96 95.23 513.3 95.26 C513.63 95.29 513.96 95.32 514.3 95.36 C514.63 95.39 514.96 95.43 515.3 95.46 C515.63 95.50 515.96 95.54 516.3 95.58 C516.63 95.62 516.96 95.66 517.3 95.70 C517.63 95.75 517.96 95.79 518.3 95.84 C518.63 95.88 518.96 95.93 519.3 95.98 C519.63 96.03 519.96 96.08 520.3 96.14 C520.63 96.19 520.97 96.25 521.3 96.30 C521.63 96.36 521.97 96.42 522.3 96.48 C522.63 96.54 523.13 96.64 523.3 96.67" fill="none" stroke="#ff0a6c" stroke-width="1.60" stroke-linejoin="round" stroke-linecap="round"/>
<path d="M348.2 100.22 C348.37 100.12 348.87 99.78 349.2 99.60 C349.53 99.43 349.87 99.28 350.2 99.16 C350.53 99.04 350.87 98.95 351.2 98.90 C351.54 98.84 351.87 98.81 352.2 98.82 C352.54 98.82 352.87 98.86 353.2 98.93 C353.54 98.99 353.87 99.09 354.2 99.23 C354.54 99.36 354.87 99.52 355.2 99.72 C355.54 99.92 355.87 100.15 356.2 100.42 C356.54 100.68 356.87 100.98 357.2 101.31 C357.54 101.65 357.87 102.02 358.2 102.41 C358.54 102.81 358.87 103.24 359.2 103.68 C359.54 104.12 359.87 104.59 360.2 105.06 C360.54 105.53 360.87 106.02 361.2 106.50 C361.54 106.98 361.87 107.48 362.2 107.96 C362.54 108.44 362.88 108.92 363.2 109.38 C363.54 109.84 363.88 110.29 364.2 110.72 C364.54 111.14 364.88 111.55 365.2 111.91 C365.54 112.28 365.88 112.63 366.2 112.93 C366.54 113.24 366.88 113.51 367.2 113.75 C367.54 113.99 367.88 114.19 368.2 114.36 C368.54 114.52 368.88 114.65 369.2 114.74 C369.55 114.82 369.88 114.87 370.2 114.87 C370.55 114.87 370.88 114.83 371.2 114.75 C371.55 114.66 371.88 114.53 372.2 114.35 C372.55 114.18 372.88 113.95 373.2 113.67 C373.55 113.40 373.88 113.08 374.2 112.72 C374.55 112.37 374.88 111.97 375.2 111.55 C375.55 111.12 375.88 110.66 376.2 110.19 C376.55 109.71 376.88 109.20 377.2 108.69 C377.55 108.17 377.88 107.63 378.2 107.09 C378.55 106.55 378.88 105.99 379.2 105.44 C379.55 104.89 379.88 104.33 380.2 103.78 C380.55 103.23 380.89 102.69 381.2 102.15 C381.55 101.62 381.89 101.09 382.2 100.56 C382.55 100.04 382.89 99.52 383.2 99.01 C383.55 98.50 383.89 98.00 384.2 97.50 C384.55 97.00 384.89 96.51 385.2 96.02 C385.55 95.53 385.89 95.05 386.2 94.58 C386.56 94.10 386.89 93.63 387.2 93.17 C387.56 92.71 387.89 92.25 388.2 91.80 C388.56 91.34 388.89 90.90 389.2 90.46 C389.56 90.02 389.89 89.59 390.2 89.16 C390.56 88.74 390.89 88.33 391.2 87.92 C391.56 87.52 391.89 87.13 392.2 86.75 C392.56 86.37 392.89 86.01 393.2 85.66 C393.56 85.31 393.89 84.97 394.2 84.65 C394.56 84.34 394.89 84.03 395.2 83.75 C395.56 83.47 395.89 83.21 396.2 82.96 C396.56 82.72 396.89 82.50 397.2 82.30 C397.56 82.10 397.90 81.93 398.2 81.77 C398.56 81.62 398.90 81.49 399.2 81.38 C399.56 81.28 399.90 81.19 400.2 81.13 C400.56 81.08 400.90 81.04 401.2 81.04 C401.56 81.03 401.90 81.05 402.2 81.09 C402.56 81.14 402.90 81.21 403.2 81.31 C403.56 81.41 403.90 81.54 404.2 81.69 C404.57 81.85 404.90 82.04 405.2 82.25 C405.57 82.45 405.90 82.69 406.2 82.94 C406.57 83.20 406.90 83.47 407.2 83.76 C407.57 84.04 407.90 84.35 408.2 84.66 C408.57 84.96 408.90 85.29 409.2 85.61 C409.57 85.93 409.90 86.25 410.2 86.57 C410.57 86.90 410.90 87.22 411.2 87.53 C411.57 87.84 411.90 88.15 412.2 88.44 C412.57 88.74 412.90 89.02 413.2 89.29 C413.57 89.56 413.90 89.82 414.2 90.07 C414.57 90.32 414.90 90.56 415.2 90.79 C415.57 91.02 415.91 91.24 416.2 91.45 C416.57 91.66 416.91 91.86 417.2 92.05 C417.57 92.24 417.91 92.43 418.2 92.60 C418.57 92.77 418.91 92.94 419.2 93.10 C419.57 93.25 419.91 93.40 420.2 93.54 C420.57 93.69 420.91 93.82 421.2 93.95 C421.58 94.07 421.91 94.19 422.2 94.30 C422.58 94.41 422.91 94.52 423.2 94.62 C423.58 94.72 423.91 94.81 424.2 94.90 C424.58 94.98 424.91 95.06 425.2 95.14 C425.58 95.21 425.91 95.28 426.2 95.35 C426.58 95.41 426.91 95.47 427.2 95.53 C427.58 95.58 427.91 95.63 428.2 95.68 C428.58 95.72 428.91 95.76 429.2 95.80 C429.58 95.84 429.91 95.88 430.2 95.91 C430.58 95.94 430.91 95.97 431.2 95.99 C431.58 96.02 431.91 96.04 432.2 96.06 C432.58 96.08 432.92 96.10 433.2 96.11 C433.58 96.13 433.92 96.14 434.2 96.15 C434.58 96.17 434.92 96.18 435.2 96.19 C435.58 96.20 435.92 96.21 436.3 96.21 C436.58 96.22 436.92 96.23 437.3 96.24 C437.58 96.24 437.92 96.25 438.3 96.26 C438.58 96.26 438.92 96.27 439.3 96.28 C439.59 96.28 439.92 96.29 440.3 96.30 C440.59 96.30 440.92 96.31 441.3 96.31 C441.59 96.32 441.92 96.32 442.3 96.33 C442.59 96.33 442.92 96.34 443.3 96.34 C443.59 96.35 443.92 96.35 444.3 96.35 C444.59 96.36 444.92 96.36 445.3 96.36 C445.59 96.37 445.92 96.37 446.3 96.37 C446.59 96.38 446.92 96.38 447.3 96.38 C447.59 96.39 447.92 96.39 448.3 96.39 C448.59 96.39 448.92 96.39 449.3 96.40 C449.59 96.40 449.92 96.40 450.3 96.40 C450.59 96.40 450.93 96.41 451.3 96.41 C451.59 96.41 451.93 96.41 452.3 96.41 C452.59 96.41 452.93 96.41 453.3 96.41 C453.59 96.42 453.93 96.42 454.3 96.42 C454.59 96.42 454.93 96.42 455.3 96.42 C455.59 96.42 455.93 96.42 456.3 96.42 C456.60 96.42 456.93 96.42 457.3 96.42 C457.60 96.42 457.93 96.42 458.3 96.42 C458.60 96.42 458.93 96.42 459.3 96.42 C459.60 96.42 459.93 96.42 460.3 96.42 C460.60 96.42 460.93 96.42 461.3 96.42 C461.60 96.42 461.93 96.42 462.3 96.42 C462.60 96.42 462.93 96.42 463.3 96.42 C463.60 96.42 463.93 96.42 464.3 96.42 C464.60 96.42 464.93 96.42 465.3 96.42 C465.60 96.42 465.93 96.42 466.3 96.42 C466.60 96.42 466.93 96.42 467.3 96.42 C467.60 96.42 467.94 96.42 468.3 96.42 C468.60 96.42 468.94 96.42 469.3 96.42 C469.60 96.42 469.94 96.42 470.3 96.42 C470.60 96.42 470.94 96.42 471.3 96.42 C471.60 96.42 471.94 96.42 472.3 96.42 C472.60 96.43 472.94 96.43 473.3 96.43 C473.60 96.43 473.94 96.43 474.3 96.43 C474.61 96.43 474.94 96.43 475.3 96.43 C475.61 96.43 475.94 96.43 476.3 96.43 C476.61 96.43 476.94 96.43 477.3 96.43 C477.61 96.43 477.94 96.43 478.3 96.43 C478.61 96.43 478.94 96.43 479.3 96.43 C479.61 96.43 479.94 96.43 480.3 96.43 C480.61 96.43 480.94 96.44 481.3 96.44 C481.61 96.44 481.94 96.44 482.3 96.44 C482.61 96.44 482.94 96.44 483.3 96.44 C483.61 96.44 483.94 96.44 484.3 96.44 C484.61 96.44 484.94 96.44 485.3 96.44 C485.61 96.44 485.95 96.44 486.3 96.44 C486.61 96.45 486.95 96.45 487.3 96.45 C487.61 96.45 487.95 96.45 488.3 96.45 C488.61 96.45 488.95 96.45 489.3 96.45 C489.61 96.45 489.95 96.45 490.3 96.45 C490.61 96.45 490.95 96.45 491.3 96.45 C491.62 96.45 491.95 96.46 492.3 96.46 C492.62 96.46 492.95 96.46 493.3 96.46 C493.62 96.46 493.95 96.46 494.3 96.46 C494.62 96.46 494.95 96.46 495.3 96.46 C495.62 96.46 495.95 96.46 496.3 96.46 C496.62 96.46 496.95 96.47 497.3 96.47 C497.62 96.47 497.95 96.47 498.3 96.47 C498.62 96.47 498.95 96.47 499.3 96.47 C499.62 96.47 499.95 96.47 500.3 96.47 C500.62 96.47 500.95 96.47 501.3 96.47 C501.62 96.47 501.95 96.47 502.3 96.48 C502.62 96.48 502.96 96.48 503.3 96.48 C503.62 96.48 503.96 96.48 504.3 96.48 C504.62 96.48 504.96 96.48 505.3 96.48 C505.62 96.48 505.96 96.48 506.3 96.48 C506.62 96.48 506.96 96.48 507.3 96.48 C507.62 96.48 507.96 96.48 508.3 96.48 C508.62 96.49 508.96 96.49 509.3 96.49 C509.63 96.49 509.96 96.49 510.3 96.49 C510.63 96.49 510.96 96.49 511.3 96.49 C511.63 96.49 511.96 96.49 512.3 96.49 C512.63 96.49 512.96 96.49 513.3 96.49 C513.63 96.49 513.96 96.49 514.3 96.49 C514.63 96.49 514.96 96.49 515.3 96.49 C515.63 96.49 515.96 96.49 516.3 96.49 C516.63 96.49 516.96 96.49 517.3 96.49 C517.63 96.49 517.96 96.49 518.3 96.49 C518.63 96.49 518.96 96.49 519.3 96.49 C519.63 96.49 519.96 96.49 520.3 96.49 C520.63 96.49 520.97 96.49 521.3 96.49 C521.63 96.49 521.97 96.49 522.3 96.49 C522.63 96.49 523.13 96.49 523.3 96.49" fill="none" stroke="#00878a" stroke-width="1.60" stroke-linejoin="round" stroke-linecap="round"/>
<line x1="347.70" y1="96.90" x2="523.30" y2="96.90" stroke="#6a6a6a" stroke-width="2.00"/>
<line x1="389.80" y1="96.90" x2="389.80" y2="100.10" stroke="#000" stroke-width="1.2"/>
<text transform="translate(389.80,110.30) scale(0.955,1)" class="tk" text-anchor="middle">250</text>
<line x1="434.30" y1="96.90" x2="434.30" y2="100.10" stroke="#000" stroke-width="1.2"/>
<text transform="translate(434.30,110.30) scale(0.955,1)" class="tk" text-anchor="middle">300</text>
<line x1="478.60" y1="96.90" x2="478.60" y2="100.10" stroke="#000" stroke-width="1.2"/>
<text transform="translate(478.60,110.30) scale(0.955,1)" class="tk" text-anchor="middle">350</text>
<line x1="523.20" y1="96.90" x2="523.20" y2="100.10" stroke="#000" stroke-width="1.2"/>
<text transform="translate(523.20,110.30) scale(0.955,1)" class="tk" text-anchor="middle">400</text>
<path d="M348.5 93.47 C348.67 93.58 349.17 93.96 349.5 94.14 C349.84 94.32 350.17 94.45 350.5 94.55 C350.84 94.65 351.18 94.70 351.5 94.72 C351.85 94.74 352.18 94.71 352.5 94.66 C352.85 94.60 353.19 94.51 353.5 94.38 C353.86 94.25 354.19 94.09 354.5 93.90 C354.86 93.71 355.20 93.48 355.5 93.23 C355.87 92.98 356.20 92.69 356.5 92.38 C356.87 92.07 357.21 91.73 357.5 91.37 C357.88 91.01 358.21 90.62 358.5 90.21 C358.88 89.80 359.22 89.36 359.6 88.91 C359.89 88.46 360.22 87.99 360.6 87.52 C360.89 87.04 361.22 86.56 361.6 86.08 C361.89 85.60 362.23 85.12 362.6 84.65 C362.90 84.18 363.23 83.71 363.6 83.27 C363.90 82.83 364.24 82.40 364.6 82.00 C364.91 81.60 365.24 81.22 365.6 80.89 C365.91 80.55 366.25 80.24 366.6 79.97 C366.92 79.71 367.25 79.49 367.6 79.31 C367.92 79.14 368.26 79.01 368.6 78.92 C368.93 78.83 369.26 78.78 369.6 78.77 C369.93 78.76 370.27 78.79 370.6 78.86 C370.94 78.93 371.27 79.03 371.6 79.17 C371.94 79.31 372.28 79.49 372.6 79.69 C372.95 79.90 373.28 80.14 373.6 80.40 C373.95 80.67 374.28 80.97 374.6 81.29 C374.95 81.61 375.29 81.96 375.6 82.34 C375.96 82.71 376.29 83.12 376.6 83.53 C376.96 83.95 377.30 84.40 377.6 84.85 C377.97 85.31 378.30 85.78 378.6 86.26 C378.97 86.74 379.31 87.24 379.6 87.73 C379.98 88.23 380.31 88.74 380.6 89.24 C380.98 89.74 381.32 90.25 381.7 90.75 C381.99 91.25 382.32 91.75 382.7 92.23 C382.99 92.72 383.33 93.20 383.7 93.66 C384.00 94.13 384.33 94.58 384.7 95.02 C385.00 95.47 385.34 95.90 385.7 96.33 C386.00 96.76 386.34 97.18 386.7 97.60 C387.01 98.02 387.34 98.44 387.7 98.86 C388.01 99.28 388.35 99.70 388.7 100.12 C389.02 100.54 389.35 100.97 389.7 101.40 C390.02 101.84 390.36 102.28 390.7 102.72 C391.03 103.17 391.36 103.63 391.7 104.09 C392.03 104.54 392.37 105.00 392.7 105.46 C393.04 105.91 393.37 106.36 393.7 106.79 C394.04 107.23 394.38 107.66 394.7 108.07 C395.05 108.47 395.38 108.87 395.7 109.23 C396.05 109.60 396.39 109.94 396.7 110.26 C397.06 110.57 397.39 110.85 397.7 111.10 C398.06 111.35 398.40 111.56 398.7 111.73 C399.06 111.91 399.40 112.04 399.7 112.15 C400.07 112.26 400.40 112.33 400.7 112.37 C401.07 112.41 401.41 112.42 401.7 112.41 C402.08 112.40 402.41 112.35 402.7 112.28 C403.08 112.22 403.42 112.12 403.8 112.01 C404.09 111.90 404.42 111.76 404.8 111.61 C405.09 111.45 405.43 111.28 405.8 111.09 C406.10 110.90 406.43 110.69 406.8 110.47 C407.10 110.25 407.44 110.02 407.8 109.77 C408.11 109.53 408.44 109.27 408.8 109.01 C409.11 108.75 409.45 108.48 409.8 108.20 C410.12 107.92 410.45 107.64 410.8 107.36 C411.12 107.07 411.45 106.78 411.8 106.50 C412.12 106.21 412.46 105.92 412.8 105.64 C413.13 105.36 413.46 105.08 413.8 104.80 C414.13 104.53 414.47 104.26 414.8 104.00 C415.14 103.74 415.47 103.49 415.8 103.25 C416.14 103.01 416.48 102.77 416.8 102.55 C417.15 102.33 417.48 102.11 417.8 101.91 C418.15 101.70 418.49 101.51 418.8 101.32 C419.16 101.13 419.49 100.95 419.8 100.78 C420.16 100.60 420.50 100.44 420.8 100.28 C421.17 100.13 421.50 99.98 421.8 99.83 C422.17 99.69 422.51 99.56 422.8 99.43 C423.18 99.30 423.51 99.18 423.8 99.06 C424.18 98.95 424.51 98.84 424.8 98.73 C425.18 98.63 425.52 98.53 425.9 98.44 C426.19 98.35 426.52 98.26 426.9 98.18 C427.19 98.10 427.53 98.02 427.9 97.95 C428.20 97.88 428.53 97.81 428.9 97.75 C429.20 97.69 429.54 97.63 429.9 97.58 C430.21 97.52 430.54 97.47 430.9 97.43 C431.21 97.38 431.55 97.34 431.9 97.30 C432.22 97.26 432.55 97.22 432.9 97.19 C433.22 97.15 433.56 97.12 433.9 97.09 C434.23 97.06 434.56 97.04 434.9 97.01 C435.23 96.99 435.57 96.97 435.9 96.95 C436.23 96.93 436.57 96.91 436.9 96.89 C437.24 96.87 437.57 96.86 437.9 96.84 C438.24 96.83 438.58 96.81 438.9 96.80 C439.25 96.79 439.58 96.77 439.9 96.76 C440.25 96.75 440.59 96.74 440.9 96.73 C441.26 96.72 441.59 96.71 441.9 96.71 C442.26 96.70 442.60 96.69 442.9 96.69 C443.27 96.68 443.60 96.68 443.9 96.67 C444.27 96.67 444.61 96.67 444.9 96.66 C445.28 96.66 445.61 96.66 445.9 96.66 C446.28 96.66 446.62 96.66 447.0 96.66 C447.29 96.66 447.62 96.66 448.0 96.66 C448.29 96.66 448.62 96.66 449.0 96.67 C449.29 96.67 449.63 96.67 450.0 96.68 C450.30 96.68 450.63 96.68 451.0 96.69 C451.30 96.69 451.64 96.70 452.0 96.70 C452.31 96.71 452.64 96.71 453.0 96.72 C453.31 96.72 453.65 96.73 454.0 96.74 C454.32 96.74 454.65 96.75 455.0 96.75 C455.32 96.76 455.66 96.77 456.0 96.77 C456.33 96.78 456.66 96.79 457.0 96.80 C457.33 96.80 457.67 96.81 458.0 96.82 C458.34 96.82 458.67 96.83 459.0 96.84 C459.34 96.85 459.68 96.85 460.0 96.86 C460.35 96.87 460.68 96.87 461.0 96.88 C461.35 96.89 461.68 96.89 462.0 96.90 C462.35 96.91 462.69 96.91 463.0 96.92 C463.36 96.92 463.69 96.93 464.0 96.94 C464.36 96.94 464.70 96.95 465.0 96.95 C465.37 96.95 465.70 96.96 466.0 96.96 C466.37 96.97 466.71 96.97 467.0 96.97 C467.38 96.98 467.71 96.98 468.0 96.98 C468.38 96.99 468.72 96.99 469.1 96.99 C469.39 97.00 469.72 97.00 470.1 97.00 C470.39 97.00 470.73 97.00 471.1 97.01 C471.40 97.01 471.73 97.01 472.1 97.01 C472.40 97.01 472.74 97.01 473.1 97.01 C473.40 97.01 473.74 97.01 474.1 97.01 C474.41 97.01 474.74 97.01 475.1 97.01 C475.41 97.01 475.75 97.01 476.1 97.01 C476.42 97.01 476.75 97.01 477.1 97.01 C477.42 97.01 477.76 97.01 478.1 97.01 C478.43 97.01 478.76 97.01 479.1 97.01 C479.43 97.00 479.77 97.00 480.1 97.00 C480.44 97.00 480.77 97.00 481.1 97.00 C481.44 96.99 481.78 96.99 482.1 96.99 C482.45 96.99 482.78 96.99 483.1 96.98 C483.45 96.98 483.79 96.98 484.1 96.98 C484.46 96.97 484.79 96.97 485.1 96.97 C485.46 96.97 485.80 96.96 486.1 96.96 C486.46 96.96 486.80 96.96 487.1 96.95 C487.47 96.95 487.80 96.95 488.1 96.94 C488.47 96.94 488.81 96.94 489.1 96.94 C489.48 96.93 489.81 96.93 490.1 96.93 C490.48 96.92 490.82 96.92 491.2 96.92 C491.49 96.92 491.82 96.91 492.2 96.91 C492.49 96.91 492.83 96.90 493.2 96.90 C493.50 96.90 493.83 96.89 494.2 96.89 C494.50 96.89 494.84 96.89 495.2 96.88 C495.51 96.88 495.84 96.88 496.2 96.88 C496.51 96.87 496.85 96.87 497.2 96.87 C497.52 96.86 497.85 96.86 498.2 96.86 C498.52 96.86 498.85 96.85 499.2 96.85 C499.52 96.85 499.86 96.85 500.2 96.85 C500.53 96.84 500.86 96.84 501.2 96.84 C501.53 96.84 501.87 96.84 502.2 96.84 C502.54 96.83 502.87 96.83 503.2 96.83 C503.54 96.83 503.88 96.83 504.2 96.83 C504.55 96.83 504.88 96.83 505.2 96.82 C505.55 96.82 505.89 96.82 506.2 96.82 C506.56 96.82 506.89 96.82 507.2 96.82 C507.56 96.82 507.90 96.82 508.2 96.82 C508.57 96.82 508.90 96.82 509.2 96.82 C509.57 96.82 509.91 96.82 510.2 96.83 C510.58 96.83 510.91 96.83 511.2 96.83 C511.58 96.83 511.91 96.83 512.2 96.84 C512.58 96.84 512.92 96.84 513.3 96.84 C513.59 96.84 513.92 96.85 514.3 96.85 C514.59 96.85 514.93 96.86 515.3 96.86 C515.60 96.86 515.93 96.87 516.3 96.87 C516.60 96.88 516.94 96.88 517.3 96.88 C517.61 96.89 517.94 96.89 518.3 96.90 C518.61 96.90 518.95 96.91 519.3 96.92 C519.62 96.92 519.95 96.93 520.3 96.93 C520.62 96.94 520.96 96.95 521.3 96.95 C521.63 96.96 521.96 96.97 522.3 96.98 C522.63 96.99 523.13 97.00 523.3 97.00" fill="none" stroke="#2b2b2b" stroke-width="1.25" stroke-linejoin="round" stroke-linecap="round"/>
<text x="313.6" y="16.4" class="pl">(b)</text>
<text class="dl" transform="translate(325.2,90.6) rotate(-90)" text-anchor="middle" font-weight="bold">&#916;&#949;</text>
<text x="435.8" y="143.8" class="xl" text-anchor="middle">Wavelength (nm)</text>
<line x1="426.20" y1="33.60" x2="438.90" y2="33.60" stroke="#ff0a6c" stroke-width="1.45"/>
<line x1="426.20" y1="47.60" x2="438.90" y2="47.60" stroke="#2a2a2a" stroke-width="1.50"/>
<line x1="426.20" y1="61.50" x2="438.90" y2="61.50" stroke="#00878a" stroke-width="1.45"/>
<text x="445.50" y="36.70" class="lg" textLength="51.50" lengthAdjust="spacingAndGlyphs">Exptl ECD of <tspan font-weight="bold">2</tspan></text>
<text x="445.50" y="50.40" class="lg" textLength="50.20" lengthAdjust="spacingAndGlyphs">Calcd ECD of(3</text>
<text x="498.50" y="50.40" class="lg" textLength="45.30" lengthAdjust="spacingAndGlyphs"><tspan font-style="italic">R</tspan>,15<tspan font-style="italic">S</tspan>,7<tspan font-style="italic">S</tspan>) &#8722;<tspan font-weight="bold">2</tspan></text>
<text x="445.50" y="64.30" class="lg" textLength="51.70" lengthAdjust="spacingAndGlyphs">Calcd ECD of (3</text>
<text x="501.00" y="64.30" class="lg" textLength="44.10" lengthAdjust="spacingAndGlyphs"><tspan font-style="italic">S</tspan>,15<tspan font-style="italic">R</tspan>,7<tspan font-style="italic">R</tspan>)&#8722;<tspan font-weight="bold">2</tspan></text>
<line x1="57.50" y1="223.00" x2="57.50" y2="341.50" stroke="#000" stroke-width="1.5"/>
<line x1="54.30" y1="223.70" x2="57.50" y2="223.70" stroke="#000" stroke-width="1.4"/>
<text transform="translate(53.40,226.60) scale(0.955,1)" class="tk" text-anchor="end">25</text>
<line x1="54.30" y1="236.71" x2="57.50" y2="236.71" stroke="#000" stroke-width="1.4"/>
<text transform="translate(53.40,239.61) scale(0.955,1)" class="tk" text-anchor="end">20</text>
<line x1="54.30" y1="249.72" x2="57.50" y2="249.72" stroke="#000" stroke-width="1.4"/>
<text transform="translate(53.40,252.62) scale(0.955,1)" class="tk" text-anchor="end">15</text>
<line x1="54.30" y1="262.73" x2="57.50" y2="262.73" stroke="#000" stroke-width="1.4"/>
<text transform="translate(53.40,265.63) scale(0.955,1)" class="tk" text-anchor="end">10</text>
<line x1="54.30" y1="275.74" x2="57.50" y2="275.74" stroke="#000" stroke-width="1.4"/>
<text transform="translate(53.40,278.64) scale(0.955,1)" class="tk" text-anchor="end">5</text>
<line x1="54.30" y1="288.76" x2="57.50" y2="288.76" stroke="#000" stroke-width="1.4"/>
<text transform="translate(53.40,291.66) scale(0.955,1)" class="tk" text-anchor="end">0</text>
<line x1="54.30" y1="301.77" x2="57.50" y2="301.77" stroke="#000" stroke-width="1.4"/>
<text transform="translate(53.40,304.67) scale(0.955,1)" class="tk" text-anchor="end">-5</text>
<line x1="54.30" y1="314.78" x2="57.50" y2="314.78" stroke="#000" stroke-width="1.4"/>
<text transform="translate(53.40,317.68) scale(0.955,1)" class="tk" text-anchor="end">-10</text>
<line x1="54.30" y1="327.79" x2="57.50" y2="327.79" stroke="#000" stroke-width="1.4"/>
<text transform="translate(53.40,330.69) scale(0.955,1)" class="tk" text-anchor="end">-15</text>
<line x1="54.30" y1="340.80" x2="57.50" y2="340.80" stroke="#000" stroke-width="1.4"/>
<text transform="translate(53.40,343.70) scale(0.955,1)" class="tk" text-anchor="end">-20</text>
<line x1="57.50" y1="288.80" x2="232.50" y2="288.80" stroke="#5a5a5a" stroke-width="2.00"/>
<line x1="99.60" y1="288.80" x2="99.60" y2="292.00" stroke="#000" stroke-width="1.2"/>
<text transform="translate(99.60,302.20) scale(0.955,1)" class="tk" text-anchor="middle">250</text>
<line x1="144.00" y1="288.80" x2="144.00" y2="292.00" stroke="#000" stroke-width="1.2"/>
<text transform="translate(144.00,302.20) scale(0.955,1)" class="tk" text-anchor="middle">300</text>
<line x1="188.20" y1="288.80" x2="188.20" y2="292.00" stroke="#000" stroke-width="1.2"/>
<text transform="translate(188.20,302.20) scale(0.955,1)" class="tk" text-anchor="middle">350</text>
<line x1="232.50" y1="288.80" x2="232.50" y2="292.00" stroke="#000" stroke-width="1.2"/>
<text transform="translate(232.50,302.20) scale(0.955,1)" class="tk" text-anchor="middle">400</text>
<path d="M57.6 291.27 C57.77 291.09 58.27 290.53 58.6 290.20 C58.94 289.86 59.28 289.55 59.6 289.27 C59.95 288.98 60.28 288.71 60.6 288.46 C60.95 288.22 61.29 287.99 61.6 287.79 C61.96 287.58 62.29 287.40 62.6 287.23 C62.96 287.07 63.30 286.92 63.6 286.79 C63.97 286.66 64.30 286.55 64.6 286.45 C64.97 286.36 65.31 286.28 65.6 286.21 C65.98 286.15 66.31 286.10 66.6 286.07 C66.98 286.03 67.32 286.01 67.7 286.01 C67.99 286.00 68.32 286.01 68.7 286.03 C68.99 286.05 69.33 286.08 69.7 286.12 C70.00 286.16 70.33 286.21 70.7 286.28 C71.00 286.34 71.34 286.41 71.7 286.49 C72.01 286.58 72.34 286.67 72.7 286.76 C73.01 286.86 73.35 286.97 73.7 287.08 C74.02 287.19 74.35 287.31 74.7 287.43 C75.02 287.56 75.36 287.69 75.7 287.82 C76.03 287.96 76.36 288.09 76.7 288.24 C77.03 288.38 77.37 288.52 77.7 288.67 C78.04 288.82 78.37 288.97 78.7 289.11 C79.04 289.26 79.38 289.41 79.7 289.56 C80.05 289.71 80.38 289.86 80.7 290.00 C81.05 290.14 81.39 290.29 81.7 290.42 C82.06 290.55 82.39 290.68 82.7 290.80 C83.06 290.92 83.40 291.03 83.7 291.14 C84.07 291.24 84.40 291.33 84.7 291.41 C85.07 291.49 85.41 291.56 85.7 291.61 C86.08 291.67 86.41 291.71 86.8 291.73 C87.09 291.75 87.42 291.76 87.8 291.75 C88.09 291.74 88.43 291.71 88.8 291.66 C89.10 291.62 89.43 291.55 89.8 291.47 C90.10 291.40 90.44 291.30 90.8 291.21 C91.11 291.11 91.44 291.00 91.8 290.89 C92.11 290.79 92.45 290.67 92.8 290.56 C93.12 290.46 93.45 290.34 93.8 290.24 C94.12 290.15 94.46 290.05 94.8 289.97 C95.13 289.89 95.46 289.81 95.8 289.76 C96.13 289.70 96.47 289.66 96.8 289.65 C97.14 289.63 97.47 289.63 97.8 289.66 C98.14 289.69 98.48 289.75 98.8 289.83 C99.15 289.91 99.48 290.01 99.8 290.13 C100.15 290.26 100.49 290.40 100.8 290.57 C101.16 290.73 101.49 290.92 101.8 291.12 C102.16 291.32 102.50 291.53 102.8 291.77 C103.17 292.00 103.50 292.25 103.8 292.50 C104.17 292.76 104.51 293.03 104.8 293.32 C105.18 293.60 105.51 293.89 105.8 294.19 C106.18 294.49 106.52 294.80 106.9 295.11 C107.19 295.42 107.52 295.74 107.9 296.07 C108.19 296.39 108.53 296.71 108.9 297.04 C109.20 297.37 109.53 297.70 109.9 298.02 C110.20 298.35 110.54 298.68 110.9 299.00 C111.21 299.32 111.54 299.64 111.9 299.96 C112.21 300.27 112.55 300.58 112.9 300.88 C113.22 301.18 113.55 301.48 113.9 301.76 C114.22 302.04 114.56 302.31 114.9 302.57 C115.23 302.83 115.56 303.08 115.9 303.32 C116.24 303.55 116.57 303.77 116.9 303.98 C117.24 304.19 117.58 304.38 117.9 304.56 C118.25 304.73 118.58 304.90 118.9 305.05 C119.25 305.20 119.59 305.34 119.9 305.46 C120.26 305.58 120.59 305.69 120.9 305.78 C121.26 305.88 121.60 305.96 121.9 306.02 C122.27 306.09 122.60 306.14 122.9 306.18 C123.27 306.22 123.61 306.24 123.9 306.25 C124.28 306.26 124.61 306.25 124.9 306.23 C125.28 306.21 125.62 306.18 126.0 306.13 C126.29 306.08 126.62 306.02 127.0 305.94 C127.29 305.86 127.63 305.77 128.0 305.66 C128.30 305.56 128.63 305.43 129.0 305.30 C129.30 305.16 129.64 305.01 130.0 304.85 C130.31 304.68 130.64 304.50 131.0 304.31 C131.31 304.11 131.65 303.90 132.0 303.68 C132.32 303.45 132.65 303.21 133.0 302.96 C133.32 302.71 133.66 302.44 134.0 302.15 C134.33 301.87 134.66 301.57 135.0 301.27 C135.33 300.97 135.67 300.65 136.0 300.33 C136.34 300.00 136.67 299.67 137.0 299.34 C137.34 299.01 137.68 298.67 138.0 298.34 C138.35 298.00 138.68 297.66 139.0 297.32 C139.35 296.98 139.69 296.63 140.0 296.28 C140.36 295.92 140.69 295.56 141.0 295.18 C141.36 294.80 141.70 294.40 142.0 294.01 C142.37 293.62 142.70 293.21 143.0 292.83 C143.37 292.45 143.71 292.08 144.0 291.73 C144.38 291.39 144.71 291.07 145.1 290.77 C145.39 290.46 145.72 290.18 146.1 289.92 C146.39 289.65 146.73 289.41 147.1 289.17 C147.40 288.94 147.73 288.73 148.1 288.53 C148.40 288.33 148.74 288.14 149.1 287.97 C149.41 287.79 149.74 287.63 150.1 287.48 C150.41 287.33 150.75 287.19 151.1 287.05 C151.42 286.92 151.75 286.80 152.1 286.68 C152.42 286.56 152.76 286.46 153.1 286.35 C153.43 286.25 153.76 286.15 154.1 286.06 C154.43 285.97 154.77 285.89 155.1 285.81 C155.44 285.73 155.77 285.65 156.1 285.59 C156.44 285.52 156.78 285.46 157.1 285.40 C157.45 285.34 157.78 285.29 158.1 285.24 C158.45 285.20 158.79 285.16 159.1 285.12 C159.46 285.08 159.79 285.05 160.1 285.02 C160.46 284.99 160.80 284.97 161.1 284.95 C161.47 284.93 161.80 284.92 162.1 284.91 C162.47 284.90 162.81 284.89 163.1 284.89 C163.48 284.88 163.81 284.88 164.1 284.88 C164.48 284.89 164.82 284.90 165.2 284.90 C165.49 284.91 165.82 284.93 166.2 284.94 C166.49 284.96 166.83 284.98 167.2 285.00 C167.50 285.02 167.83 285.04 168.2 285.07 C168.50 285.09 168.84 285.12 169.2 285.15 C169.51 285.18 169.84 285.21 170.2 285.25 C170.51 285.28 170.85 285.32 171.2 285.35 C171.52 285.39 171.85 285.43 172.2 285.47 C172.52 285.51 172.86 285.55 173.2 285.59 C173.53 285.63 173.86 285.67 174.2 285.72 C174.54 285.76 174.87 285.80 175.2 285.85 C175.54 285.89 175.88 285.94 176.2 285.98 C176.55 286.02 176.88 286.07 177.2 286.11 C177.55 286.16 177.89 286.20 178.2 286.24 C178.56 286.29 178.89 286.33 179.2 286.37 C179.56 286.41 179.90 286.46 180.2 286.50 C180.57 286.54 180.90 286.58 181.2 286.61 C181.57 286.65 181.91 286.69 182.2 286.72 C182.58 286.76 182.91 286.79 183.2 286.82 C183.58 286.86 183.92 286.89 184.3 286.91 C184.59 286.94 184.92 286.97 185.3 286.99 C185.59 287.02 185.93 287.04 186.3 287.06 C186.60 287.08 186.93 287.10 187.3 287.12 C187.60 287.14 187.94 287.16 188.3 287.17 C188.61 287.19 188.94 287.20 189.3 287.22 C189.61 287.23 189.95 287.24 190.3 287.25 C190.62 287.26 190.95 287.27 191.3 287.28 C191.62 287.29 191.96 287.30 192.3 287.30 C192.63 287.31 192.96 287.31 193.3 287.32 C193.63 287.32 193.97 287.33 194.3 287.33 C194.64 287.33 194.97 287.33 195.3 287.33 C195.64 287.33 195.98 287.33 196.3 287.33 C196.65 287.33 196.98 287.33 197.3 287.33 C197.65 287.33 197.99 287.32 198.3 287.32 C198.66 287.32 198.99 287.31 199.3 287.31 C199.66 287.31 200.00 287.30 200.3 287.30 C200.67 287.29 201.00 287.29 201.3 287.28 C201.67 287.28 202.01 287.27 202.3 287.26 C202.68 287.26 203.01 287.25 203.3 287.25 C203.69 287.24 204.02 287.23 204.4 287.23 C204.69 287.22 205.03 287.21 205.4 287.21 C205.70 287.20 206.03 287.20 206.4 287.19 C206.70 287.18 207.04 287.18 207.4 287.17 C207.71 287.17 208.04 287.16 208.4 287.16 C208.71 287.15 209.05 287.15 209.4 287.14 C209.72 287.14 210.05 287.14 210.4 287.13 C210.72 287.13 211.06 287.13 211.4 287.12 C211.73 287.12 212.06 287.12 212.4 287.12 C212.73 287.12 213.07 287.12 213.4 287.12 C213.74 287.12 214.07 287.12 214.4 287.12 C214.74 287.13 215.08 287.13 215.4 287.13 C215.75 287.14 216.08 287.14 216.4 287.15 C216.75 287.15 217.09 287.16 217.4 287.17 C217.76 287.18 218.09 287.18 218.4 287.20 C218.76 287.21 219.10 287.22 219.4 287.23 C219.77 287.24 220.10 287.26 220.4 287.27 C220.77 287.29 221.11 287.30 221.4 287.32 C221.78 287.34 222.11 287.36 222.4 287.38 C222.78 287.40 223.12 287.43 223.5 287.45 C223.79 287.48 224.12 287.50 224.5 287.53 C224.79 287.56 225.13 287.59 225.5 287.62 C225.80 287.65 226.13 287.68 226.5 287.72 C226.80 287.75 227.14 287.79 227.5 287.83 C227.81 287.87 228.14 287.91 228.5 287.95 C228.81 287.99 229.15 288.04 229.5 288.08 C229.82 288.13 230.15 288.18 230.5 288.23 C230.82 288.28 231.16 288.34 231.5 288.39 C231.83 288.45 232.33 288.54 232.5 288.57" fill="none" stroke="#ff0a6c" stroke-width="1.60" stroke-linejoin="round" stroke-linecap="round"/>
<path d="M57.6 289.59 C57.77 289.56 58.27 289.49 58.6 289.42 C58.94 289.35 59.28 289.27 59.6 289.17 C59.95 289.08 60.28 288.97 60.6 288.86 C60.95 288.75 61.29 288.62 61.6 288.49 C61.96 288.36 62.29 288.22 62.6 288.08 C62.96 287.94 63.30 287.79 63.6 287.65 C63.97 287.50 64.30 287.34 64.6 287.19 C64.97 287.04 65.31 286.88 65.6 286.73 C65.98 286.58 66.31 286.43 66.6 286.28 C66.98 286.13 67.32 285.99 67.7 285.85 C67.99 285.71 68.32 285.57 68.7 285.45 C68.99 285.32 69.33 285.20 69.7 285.09 C70.00 284.98 70.33 284.88 70.7 284.79 C71.00 284.70 71.34 284.63 71.7 284.56 C72.01 284.50 72.34 284.45 72.7 284.41 C73.01 284.38 73.35 284.36 73.7 284.36 C74.02 284.35 74.35 284.37 74.7 284.40 C75.02 284.44 75.36 284.49 75.7 284.57 C76.03 284.65 76.36 284.74 76.7 284.86 C77.03 284.99 77.37 285.13 77.7 285.30 C78.04 285.47 78.37 285.67 78.7 285.89 C79.04 286.12 79.38 286.37 79.7 286.65 C80.05 286.92 80.38 287.23 80.7 287.55 C81.05 287.87 81.39 288.22 81.7 288.57 C82.06 288.92 82.39 289.28 82.7 289.65 C83.06 290.02 83.40 290.39 83.7 290.77 C84.07 291.16 84.40 291.55 84.7 291.96 C85.07 292.37 85.41 292.79 85.7 293.23 C86.08 293.67 86.41 294.13 86.8 294.61 C87.09 295.09 87.42 295.60 87.8 296.12 C88.09 296.65 88.43 297.21 88.8 297.78 C89.10 298.34 89.43 298.93 89.8 299.52 C90.10 300.11 90.44 300.71 90.8 301.30 C91.11 301.88 91.44 302.48 91.8 303.04 C92.11 303.61 92.45 304.18 92.8 304.71 C93.12 305.24 93.45 305.75 93.8 306.22 C94.12 306.69 94.46 307.14 94.8 307.53 C95.13 307.93 95.46 308.28 95.8 308.58 C96.13 308.88 96.47 309.13 96.8 309.32 C97.14 309.51 97.47 309.64 97.8 309.71 C98.14 309.79 98.48 309.80 98.8 309.74 C99.15 309.69 99.48 309.57 99.8 309.38 C100.15 309.18 100.49 308.92 100.8 308.58 C101.16 308.24 101.49 307.83 101.8 307.34 C102.16 306.85 102.50 306.26 102.8 305.62 C103.17 304.97 103.50 304.23 103.8 303.48 C104.17 302.73 104.51 301.91 104.8 301.10 C105.18 300.30 105.51 299.46 105.8 298.66 C106.18 297.85 106.52 297.07 106.9 296.28 C107.19 295.50 107.52 294.74 107.9 293.97 C108.19 293.19 108.53 292.42 108.9 291.63 C109.20 290.84 109.53 290.03 109.9 289.23 C110.20 288.42 110.54 287.60 110.9 286.80 C111.21 285.99 111.54 285.18 111.9 284.39 C112.21 283.60 112.55 282.81 112.9 282.05 C113.22 281.30 113.55 280.55 113.9 279.84 C114.22 279.14 114.56 278.45 114.9 277.82 C115.23 277.18 115.56 276.57 115.9 276.02 C116.24 275.47 116.57 274.95 116.9 274.50 C117.24 274.05 117.58 273.66 117.9 273.32 C118.25 272.98 118.58 272.69 118.9 272.45 C119.25 272.22 119.59 272.03 119.9 271.89 C120.26 271.74 120.59 271.65 120.9 271.59 C121.26 271.53 121.60 271.51 121.9 271.53 C122.27 271.55 122.60 271.60 122.9 271.68 C123.27 271.77 123.61 271.88 123.9 272.02 C124.28 272.16 124.61 272.33 124.9 272.52 C125.28 272.71 125.62 272.92 126.0 273.15 C126.29 273.38 126.62 273.63 127.0 273.90 C127.29 274.16 127.63 274.45 128.0 274.74 C128.30 275.03 128.63 275.35 129.0 275.66 C129.30 275.98 129.64 276.31 130.0 276.65 C130.31 276.98 130.64 277.33 131.0 277.68 C131.31 278.02 131.65 278.38 132.0 278.73 C132.32 279.08 132.65 279.43 133.0 279.78 C133.32 280.13 133.66 280.48 134.0 280.83 C134.33 281.17 134.66 281.51 135.0 281.84 C135.33 282.17 135.67 282.49 136.0 282.81 C136.34 283.12 136.67 283.42 137.0 283.72 C137.34 284.01 137.68 284.29 138.0 284.57 C138.35 284.84 138.68 285.10 139.0 285.35 C139.35 285.59 139.69 285.83 140.0 286.05 C140.36 286.27 140.69 286.47 141.0 286.67 C141.36 286.86 141.70 287.04 142.0 287.21 C142.37 287.38 142.70 287.54 143.0 287.70 C143.37 287.85 143.71 287.99 144.0 288.12 C144.38 288.26 144.71 288.39 145.1 288.51 C145.39 288.64 145.72 288.76 146.1 288.88 C146.39 288.99 146.73 289.11 147.1 289.21 C147.40 289.32 147.73 289.43 148.1 289.53 C148.40 289.63 148.74 289.72 149.1 289.81 C149.41 289.91 149.74 289.99 150.1 290.08 C150.41 290.16 150.75 290.24 151.1 290.32 C151.42 290.40 151.75 290.47 152.1 290.54 C152.42 290.61 152.76 290.67 153.1 290.73 C153.43 290.79 153.76 290.85 154.1 290.90 C154.43 290.95 154.77 291.00 155.1 291.05 C155.44 291.10 155.77 291.14 156.1 291.18 C156.44 291.21 156.78 291.25 157.1 291.28 C157.45 291.31 157.78 291.34 158.1 291.36 C158.45 291.38 158.79 291.40 159.1 291.42 C159.46 291.43 159.79 291.45 160.1 291.46 C160.46 291.47 160.80 291.47 161.1 291.47 C161.47 291.47 161.80 291.47 162.1 291.47 C162.47 291.46 162.81 291.45 163.1 291.44 C163.48 291.43 163.81 291.41 164.1 291.39 C164.48 291.37 164.82 291.35 165.2 291.33 C165.49 291.30 165.82 291.27 166.2 291.24 C166.49 291.20 166.83 291.17 167.2 291.13 C167.50 291.09 167.83 291.05 168.2 291.00 C168.50 290.95 168.84 290.91 169.2 290.85 C169.51 290.80 169.84 290.74 170.2 290.68 C170.51 290.63 170.85 290.56 171.2 290.50 C171.52 290.43 171.85 290.36 172.2 290.29 C172.52 290.22 172.86 290.15 173.2 290.07 C173.53 289.99 173.86 289.91 174.2 289.83 C174.54 289.75 174.87 289.67 175.2 289.59 C175.54 289.50 175.88 289.42 176.2 289.33 C176.55 289.24 176.88 289.16 177.2 289.07 C177.55 288.98 177.89 288.90 178.2 288.81 C178.56 288.72 178.89 288.64 179.2 288.55 C179.56 288.47 179.90 288.38 180.2 288.30 C180.57 288.21 180.90 288.13 181.2 288.05 C181.57 287.97 181.91 287.89 182.2 287.81 C182.58 287.73 182.91 287.65 183.2 287.57 C183.58 287.50 183.92 287.42 184.3 287.35 C184.59 287.27 184.92 287.20 185.3 287.13 C185.59 287.06 185.93 286.99 186.3 286.93 C186.60 286.86 186.93 286.80 187.3 286.74 C187.60 286.67 187.94 286.61 188.3 286.56 C188.61 286.50 188.94 286.44 189.3 286.39 C189.61 286.34 189.95 286.29 190.3 286.24 C190.62 286.19 190.95 286.14 191.3 286.10 C191.62 286.06 191.96 286.02 192.3 285.98 C192.63 285.94 192.96 285.91 193.3 285.88 C193.63 285.85 193.97 285.82 194.3 285.79 C194.64 285.77 194.97 285.74 195.3 285.72 C195.64 285.70 195.98 285.69 196.3 285.67 C196.65 285.66 196.98 285.65 197.3 285.64 C197.65 285.63 197.99 285.63 198.3 285.63 C198.66 285.62 198.99 285.63 199.3 285.63 C199.66 285.64 200.00 285.64 200.3 285.66 C200.67 285.67 201.00 285.68 201.3 285.70 C201.67 285.72 202.01 285.74 202.3 285.77 C202.68 285.79 203.01 285.82 203.3 285.85 C203.69 285.88 204.02 285.92 204.4 285.96 C204.69 286.00 205.03 286.04 205.4 286.09 C205.70 286.14 206.03 286.19 206.4 286.24 C206.70 286.29 207.04 286.35 207.4 286.41 C207.71 286.47 208.04 286.53 208.4 286.60 C208.71 286.66 209.05 286.73 209.4 286.79 C209.72 286.86 210.05 286.93 210.4 287.00 C210.72 287.07 211.06 287.14 211.4 287.20 C211.73 287.27 212.06 287.35 212.4 287.41 C212.73 287.48 213.07 287.55 213.4 287.62 C213.74 287.69 214.07 287.76 214.4 287.82 C214.74 287.89 215.08 287.95 215.4 288.01 C215.75 288.07 216.08 288.13 216.4 288.19 C216.75 288.25 217.09 288.30 217.4 288.35 C217.76 288.40 218.09 288.45 218.4 288.49 C218.76 288.54 219.10 288.58 219.4 288.61 C219.77 288.64 220.10 288.67 220.4 288.70 C220.77 288.72 221.11 288.74 221.4 288.76 C221.78 288.77 222.11 288.78 222.4 288.78 C222.78 288.79 223.12 288.78 223.5 288.78 C223.79 288.78 224.12 288.77 224.5 288.76 C224.79 288.75 225.13 288.74 225.5 288.73 C225.80 288.72 226.13 288.71 226.5 288.70 C226.80 288.69 227.14 288.68 227.5 288.68 C227.81 288.68 228.14 288.67 228.5 288.68 C228.81 288.68 229.15 288.69 229.5 288.71 C229.82 288.72 230.15 288.74 230.5 288.77 C230.82 288.80 231.16 288.83 231.5 288.88 C231.83 288.93 232.33 289.02 232.5 289.05" fill="none" stroke="#00878a" stroke-width="1.60" stroke-linejoin="round" stroke-linecap="round"/>
<path d="M57.6 289.02 C57.77 288.95 58.27 288.70 58.6 288.60 C58.94 288.50 59.28 288.43 59.6 288.39 C59.95 288.36 60.28 288.35 60.6 288.37 C60.95 288.39 61.29 288.43 61.6 288.50 C61.96 288.56 62.29 288.65 62.6 288.75 C62.96 288.86 63.30 288.98 63.6 289.11 C63.97 289.24 64.30 289.39 64.6 289.54 C64.97 289.69 65.31 289.85 65.6 290.02 C65.98 290.18 66.31 290.35 66.6 290.51 C66.98 290.68 67.32 290.84 67.7 291.00 C67.99 291.16 68.32 291.31 68.7 291.46 C68.99 291.60 69.33 291.73 69.7 291.85 C70.00 291.97 70.33 292.08 70.7 292.18 C71.00 292.28 71.34 292.36 71.7 292.43 C72.01 292.50 72.34 292.55 72.7 292.59 C73.01 292.63 73.35 292.65 73.7 292.66 C74.02 292.66 74.35 292.65 74.7 292.62 C75.02 292.59 75.36 292.55 75.7 292.48 C76.03 292.41 76.36 292.32 76.7 292.21 C77.03 292.10 77.37 291.97 77.7 291.82 C78.04 291.66 78.37 291.49 78.7 291.29 C79.04 291.09 79.38 290.86 79.7 290.62 C80.05 290.37 80.38 290.09 80.7 289.80 C81.05 289.50 81.39 289.18 81.7 288.84 C82.06 288.50 82.39 288.14 82.7 287.76 C83.06 287.38 83.40 286.98 83.7 286.57 C84.07 286.16 84.40 285.72 84.7 285.28 C85.07 284.83 85.41 284.37 85.7 283.90 C86.08 283.43 86.41 282.94 86.8 282.45 C87.09 281.95 87.42 281.44 87.8 280.93 C88.09 280.41 88.43 279.89 88.8 279.36 C89.10 278.84 89.43 278.30 89.8 277.77 C90.10 277.25 90.44 276.72 90.8 276.20 C91.11 275.68 91.44 275.17 91.8 274.67 C92.11 274.17 92.45 273.68 92.8 273.22 C93.12 272.75 93.45 272.30 93.8 271.87 C94.12 271.45 94.46 271.04 94.8 270.67 C95.13 270.30 95.46 269.95 95.8 269.64 C96.13 269.33 96.47 269.05 96.8 268.82 C97.14 268.59 97.47 268.40 97.8 268.28 C98.14 268.16 98.48 268.08 98.8 268.09 C99.15 268.10 99.48 268.16 99.8 268.33 C100.15 268.49 100.49 268.74 100.8 269.07 C101.16 269.41 101.49 269.85 101.8 270.34 C102.16 270.84 102.50 271.42 102.8 272.02 C103.17 272.62 103.50 273.29 103.8 273.95 C104.17 274.62 104.51 275.31 104.8 275.99 C105.18 276.68 105.51 277.37 105.8 278.09 C106.18 278.81 106.52 279.54 106.9 280.32 C107.19 281.10 107.52 281.91 107.9 282.78 C108.19 283.66 108.53 284.61 108.9 285.58 C109.20 286.54 109.53 287.59 109.9 288.55 C110.20 289.52 110.54 290.47 110.9 291.35 C111.21 292.24 111.54 293.06 111.9 293.85 C112.21 294.64 112.55 295.38 112.9 296.08 C113.22 296.79 113.55 297.46 113.9 298.09 C114.22 298.73 114.56 299.33 114.9 299.90 C115.23 300.47 115.56 301.01 115.9 301.50 C116.24 302.00 116.57 302.46 116.9 302.88 C117.24 303.29 117.58 303.67 117.9 304.01 C118.25 304.34 118.58 304.63 118.9 304.87 C119.25 305.12 119.59 305.32 119.9 305.49 C120.26 305.65 120.59 305.78 120.9 305.87 C121.26 305.96 121.60 306.01 121.9 306.03 C122.27 306.05 122.60 306.04 122.9 305.99 C123.27 305.95 123.61 305.88 123.9 305.78 C124.28 305.68 124.61 305.55 124.9 305.40 C125.28 305.25 125.62 305.07 126.0 304.88 C126.29 304.68 126.62 304.46 127.0 304.23 C127.29 303.99 127.63 303.74 128.0 303.47 C128.30 303.20 128.63 302.92 129.0 302.62 C129.30 302.33 129.64 302.02 130.0 301.70 C130.31 301.38 130.64 301.06 131.0 300.72 C131.31 300.39 131.65 300.05 132.0 299.71 C132.32 299.36 132.65 299.01 133.0 298.67 C133.32 298.32 133.66 297.97 134.0 297.62 C134.33 297.27 134.66 296.93 135.0 296.58 C135.33 296.24 135.67 295.91 136.0 295.58 C136.34 295.25 136.67 294.93 137.0 294.61 C137.34 294.30 137.68 294.00 138.0 293.71 C138.35 293.42 138.68 293.13 139.0 292.86 C139.35 292.59 139.69 292.32 140.0 292.07 C140.36 291.82 140.69 291.57 141.0 291.34 C141.36 291.10 141.70 290.88 142.0 290.66 C142.37 290.44 142.70 290.24 143.0 290.04 C143.37 289.84 143.71 289.66 144.0 289.48 C144.38 289.30 144.71 289.13 145.1 288.97 C145.39 288.81 145.72 288.66 146.1 288.52 C146.39 288.38 146.73 288.25 147.1 288.12 C147.40 288.00 147.73 287.89 148.1 287.78 C148.40 287.68 148.74 287.58 149.1 287.49 C149.41 287.40 149.74 287.31 150.1 287.24 C150.41 287.16 150.75 287.09 151.1 287.02 C151.42 286.95 151.75 286.89 152.1 286.84 C152.42 286.78 152.76 286.73 153.1 286.68 C153.43 286.64 153.76 286.59 154.1 286.55 C154.43 286.51 154.77 286.47 155.1 286.44 C155.44 286.40 155.77 286.37 156.1 286.33 C156.44 286.30 156.78 286.27 157.1 286.24 C157.45 286.21 157.78 286.18 158.1 286.15 C158.45 286.12 158.79 286.09 159.1 286.07 C159.46 286.04 159.79 286.02 160.1 286.00 C160.46 285.98 160.80 285.97 161.1 285.96 C161.47 285.95 161.80 285.94 162.1 285.94 C162.47 285.94 162.81 285.94 163.1 285.95 C163.48 285.96 163.81 285.97 164.1 285.99 C164.48 286.01 164.82 286.04 165.2 286.07 C165.49 286.10 165.82 286.14 166.2 286.19 C166.49 286.24 166.83 286.30 167.2 286.36 C167.50 286.42 167.83 286.49 168.2 286.56 C168.50 286.64 168.84 286.71 169.2 286.80 C169.51 286.88 169.84 286.96 170.2 287.05 C170.51 287.14 170.85 287.23 171.2 287.32 C171.52 287.42 171.85 287.51 172.2 287.61 C172.52 287.70 172.86 287.80 173.2 287.89 C173.53 287.99 173.86 288.08 174.2 288.17 C174.54 288.26 174.87 288.36 175.2 288.44 C175.54 288.53 175.88 288.62 176.2 288.70 C176.55 288.78 176.88 288.87 177.2 288.95 C177.55 289.03 177.89 289.10 178.2 289.18 C178.56 289.25 178.89 289.33 179.2 289.40 C179.56 289.47 179.90 289.54 180.2 289.60 C180.57 289.67 180.90 289.73 181.2 289.80 C181.57 289.86 181.91 289.92 182.2 289.98 C182.58 290.03 182.91 290.09 183.2 290.14 C183.58 290.20 183.92 290.25 184.3 290.30 C184.59 290.34 184.92 290.39 185.3 290.44 C185.59 290.48 185.93 290.52 186.3 290.56 C186.60 290.60 186.93 290.64 187.3 290.67 C187.60 290.71 187.94 290.74 188.3 290.77 C188.61 290.80 188.94 290.83 189.3 290.86 C189.61 290.88 189.95 290.91 190.3 290.93 C190.62 290.95 190.95 290.97 191.3 290.99 C191.62 291.01 191.96 291.02 192.3 291.03 C192.63 291.04 192.96 291.05 193.3 291.06 C193.63 291.07 193.97 291.08 194.3 291.08 C194.64 291.08 194.97 291.08 195.3 291.08 C195.64 291.08 195.98 291.08 196.3 291.07 C196.65 291.07 196.98 291.06 197.3 291.05 C197.65 291.04 197.99 291.03 198.3 291.02 C198.66 291.01 198.99 291.00 199.3 290.98 C199.66 290.97 200.00 290.95 200.3 290.94 C200.67 290.92 201.00 290.90 201.3 290.88 C201.67 290.86 202.01 290.84 202.3 290.82 C202.68 290.80 203.01 290.78 203.3 290.75 C203.69 290.73 204.02 290.71 204.4 290.68 C204.69 290.66 205.03 290.63 205.4 290.61 C205.70 290.58 206.03 290.56 206.4 290.53 C206.70 290.51 207.04 290.48 207.4 290.45 C207.71 290.43 208.04 290.40 208.4 290.37 C208.71 290.35 209.05 290.32 209.4 290.30 C209.72 290.27 210.05 290.24 210.4 290.22 C210.72 290.19 211.06 290.17 211.4 290.14 C211.73 290.12 212.06 290.09 212.4 290.07 C212.73 290.04 213.07 290.02 213.4 289.99 C213.74 289.97 214.07 289.94 214.4 289.92 C214.74 289.90 215.08 289.87 215.4 289.85 C215.75 289.83 216.08 289.80 216.4 289.78 C216.75 289.76 217.09 289.74 217.4 289.72 C217.76 289.70 218.09 289.68 218.4 289.66 C218.76 289.64 219.10 289.62 219.4 289.60 C219.77 289.58 220.10 289.57 220.4 289.55 C220.77 289.53 221.11 289.52 221.4 289.50 C221.78 289.49 222.11 289.47 222.4 289.46 C222.78 289.45 223.12 289.44 223.5 289.42 C223.79 289.41 224.12 289.40 224.5 289.39 C224.79 289.38 225.13 289.37 225.5 289.37 C225.80 289.36 226.13 289.35 226.5 289.35 C226.80 289.34 227.14 289.34 227.5 289.34 C227.81 289.34 228.14 289.33 228.5 289.33 C228.81 289.33 229.15 289.34 229.5 289.34 C229.82 289.34 230.15 289.34 230.5 289.35 C230.82 289.35 231.16 289.36 231.5 289.37 C231.83 289.38 232.33 289.39 232.5 289.40" fill="none" stroke="#111" stroke-width="1.60" stroke-linejoin="round" stroke-linecap="round"/>
<text x="10.2" y="210.0" class="pl">(c)</text>
<text class="dl" transform="translate(35.0,282.5) rotate(-90)" text-anchor="middle">&#916;&#949;</text>
<text x="145" y="335.5" class="xl" text-anchor="middle">Wavelength (nm)</text>
<line x1="135.30" y1="224.20" x2="148.10" y2="224.20" stroke="#ff0a6c" stroke-width="1.45"/>
<line x1="135.30" y1="238.50" x2="148.10" y2="238.50" stroke="#111" stroke-width="1.70"/>
<line x1="135.90" y1="253.40" x2="148.70" y2="253.40" stroke="#00878a" stroke-width="1.35"/>
<text x="154.70" y="227.50" class="lg lgc" textLength="51.60" lengthAdjust="spacingAndGlyphs">Exptl ECD of <tspan font-weight="bold">3</tspan></text>
<text x="154.70" y="241.90" class="lg lgc" textLength="51.50" lengthAdjust="spacingAndGlyphs">Calcd ECD of (1</text>
<text x="209.50" y="241.90" class="lg lgc" textLength="98.80" lengthAdjust="spacingAndGlyphs"><tspan font-style="italic">S</tspan>,2<tspan font-style="italic">R</tspan>,3<tspan font-style="italic">S</tspan>,4<tspan font-style="italic">S</tspan>,1'<tspan font-style="italic">S</tspan>,2'<tspan font-style="italic">R</tspan>,3'<tspan font-style="italic">S</tspan>,4'<tspan font-style="italic">S</tspan>)&#8722;<tspan font-weight="bold">3</tspan></text>
<text x="154.70" y="256.80" class="lg lgc" textLength="52.20" lengthAdjust="spacingAndGlyphs">Calcd ECD of (1</text>
<text x="210.50" y="256.80" class="lg lgc" textLength="102.50" lengthAdjust="spacingAndGlyphs"><tspan font-style="italic">R</tspan>,2<tspan font-style="italic">S</tspan>,3<tspan font-style="italic">R</tspan>,4<tspan font-style="italic">R</tspan>,1'<tspan font-style="italic">R</tspan>,2'<tspan font-style="italic">S</tspan>,3'<tspan font-style="italic">R</tspan>,4'<tspan font-style="italic">S</tspan>)&#8722;<tspan font-weight="bold">3</tspan></text>
</svg>
</body></html>
